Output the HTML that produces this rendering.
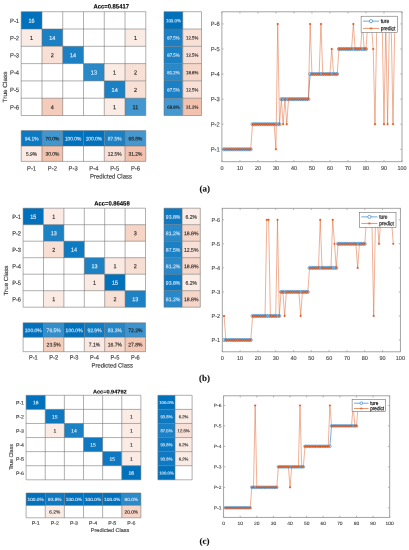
<!DOCTYPE html>
<html lang="en">
<head>
<meta charset="utf-8">
<title>Confusion matrices and prediction results</title>
<style>
html,body{margin:0;padding:0;background:#fff;}
body{width:409px;height:550px;overflow:hidden;font-family:"Liberation Sans",Arial,sans-serif;}
svg{display:block;}
</style>
</head>
<body>
<svg width="409" height="550" viewBox="0 0 409 550" font-family='"Liberation Sans", Arial, Helvetica, sans-serif' text-rendering="geometricPrecision">
<rect width="409" height="550" fill="#fff"/>
<rect x="21.2" y="11.7" width="124.6" height="103.8" fill="#fff"/>
<rect x="21.2" y="11.7" width="20.77" height="17.3" fill="#0072bd"/>
<rect x="21.2" y="29" width="20.77" height="17.3" fill="#faebe4"/>
<rect x="41.97" y="29" width="20.77" height="17.3" fill="#1b81c4"/>
<rect x="125.03" y="29" width="20.77" height="17.3" fill="#faebe4"/>
<rect x="41.97" y="46.3" width="20.77" height="17.3" fill="#f8e0d6"/>
<rect x="62.73" y="46.3" width="20.77" height="17.3" fill="#1b81c4"/>
<rect x="83.5" y="63.6" width="20.77" height="17.3" fill="#2988c8"/>
<rect x="104.27" y="63.6" width="20.77" height="17.3" fill="#faebe4"/>
<rect x="125.03" y="63.6" width="20.77" height="17.3" fill="#f8e0d6"/>
<rect x="104.27" y="80.9" width="20.77" height="17.3" fill="#1b81c4"/>
<rect x="125.03" y="80.9" width="20.77" height="17.3" fill="#f8e0d6"/>
<rect x="41.97" y="98.2" width="20.77" height="17.3" fill="#f4ccbb"/>
<rect x="104.27" y="98.2" width="20.77" height="17.3" fill="#faebe4"/>
<rect x="125.03" y="98.2" width="20.77" height="17.3" fill="#4497cf"/>
<path d="M21.2 11.7V115.5M41.97 11.7V115.5M62.73 11.7V115.5M83.5 11.7V115.5M104.27 11.7V115.5M125.03 11.7V115.5M145.8 11.7V115.5M21.2 11.7H145.8M21.2 29H145.8M21.2 46.3H145.8M21.2 63.6H145.8M21.2 80.9H145.8M21.2 98.2H145.8M21.2 115.5H145.8" stroke="#6e6e6e" stroke-width="0.55" fill="none"/>
<text font-size="5.5" text-anchor="middle" fill="#e6f0f9" stroke="#e6f0f9" stroke-width="0.12" transform="translate(31.58 22.71) rotate(0.03) scale(1 1.07)">16</text>
<text font-size="5.5" text-anchor="middle" fill="#222" stroke="#222" stroke-width="0.12" transform="translate(31.58 40.01) rotate(0.03) scale(1 1.07)">1</text>
<text font-size="5.5" text-anchor="middle" fill="#e6f0f9" stroke="#e6f0f9" stroke-width="0.12" transform="translate(52.35 40.01) rotate(0.03) scale(1 1.07)">14</text>
<text font-size="5.5" text-anchor="middle" fill="#222" stroke="#222" stroke-width="0.12" transform="translate(135.42 40.01) rotate(0.03) scale(1 1.07)">1</text>
<text font-size="5.5" text-anchor="middle" fill="#222" stroke="#222" stroke-width="0.12" transform="translate(52.35 57.31) rotate(0.03) scale(1 1.07)">2</text>
<text font-size="5.5" text-anchor="middle" fill="#e6f0f9" stroke="#e6f0f9" stroke-width="0.12" transform="translate(73.12 57.31) rotate(0.03) scale(1 1.07)">14</text>
<text font-size="5.5" text-anchor="middle" fill="#e6f0f9" stroke="#e6f0f9" stroke-width="0.12" transform="translate(93.88 74.61) rotate(0.03) scale(1 1.07)">13</text>
<text font-size="5.5" text-anchor="middle" fill="#222" stroke="#222" stroke-width="0.12" transform="translate(114.65 74.61) rotate(0.03) scale(1 1.07)">1</text>
<text font-size="5.5" text-anchor="middle" fill="#222" stroke="#222" stroke-width="0.12" transform="translate(135.42 74.61) rotate(0.03) scale(1 1.07)">2</text>
<text font-size="5.5" text-anchor="middle" fill="#e6f0f9" stroke="#e6f0f9" stroke-width="0.12" transform="translate(114.65 91.91) rotate(0.03) scale(1 1.07)">14</text>
<text font-size="5.5" text-anchor="middle" fill="#222" stroke="#222" stroke-width="0.12" transform="translate(135.42 91.91) rotate(0.03) scale(1 1.07)">2</text>
<text font-size="5.5" text-anchor="middle" fill="#222" stroke="#222" stroke-width="0.12" transform="translate(52.35 109.21) rotate(0.03) scale(1 1.07)">4</text>
<text font-size="5.5" text-anchor="middle" fill="#222" stroke="#222" stroke-width="0.12" transform="translate(114.65 109.21) rotate(0.03) scale(1 1.07)">1</text>
<text font-size="5.5" text-anchor="middle" fill="#1a1a1a" stroke="#1a1a1a" stroke-width="0.12" transform="translate(135.42 109.21) rotate(0.03) scale(1 1.07)">11</text>
<text font-size="5.8" text-anchor="end" fill="#3a3a3a" stroke="#3a3a3a" stroke-width="0.14" transform="translate(19.1 22.92) rotate(0.03) scale(1 1.07)">P-1</text>
<text font-size="5.8" text-anchor="end" fill="#3a3a3a" stroke="#3a3a3a" stroke-width="0.14" transform="translate(19.1 40.22) rotate(0.03) scale(1 1.07)">P-2</text>
<text font-size="5.8" text-anchor="end" fill="#3a3a3a" stroke="#3a3a3a" stroke-width="0.14" transform="translate(19.1 57.52) rotate(0.03) scale(1 1.07)">P-3</text>
<text font-size="5.8" text-anchor="end" fill="#3a3a3a" stroke="#3a3a3a" stroke-width="0.14" transform="translate(19.1 74.82) rotate(0.03) scale(1 1.07)">P-4</text>
<text font-size="5.8" text-anchor="end" fill="#3a3a3a" stroke="#3a3a3a" stroke-width="0.14" transform="translate(19.1 92.12) rotate(0.03) scale(1 1.07)">P-5</text>
<text font-size="5.8" text-anchor="end" fill="#3a3a3a" stroke="#3a3a3a" stroke-width="0.14" transform="translate(19.1 109.42) rotate(0.03) scale(1 1.07)">P-6</text>
<text font-size="5.9" text-anchor="middle" fill="#000" stroke="#000" stroke-width="0.1" font-weight="bold" transform="translate(111.2 8.4) rotate(0.03) scale(1 1.07)">Acc=0.85417</text>
<text font-size="6" text-anchor="middle" fill="#3a3a3a" stroke="#3a3a3a" stroke-width="0.14" transform="translate(6.9 87) rotate(-90) scale(1.07 1)">True Class</text>
<rect x="164" y="11.7" width="37.5" height="103.8" fill="#fff"/>
<rect x="164" y="11.7" width="18.75" height="17.3" fill="#0072bd"/>
<rect x="164" y="29" width="18.75" height="17.3" fill="#1b81c4"/>
<rect x="182.75" y="29" width="18.75" height="17.3" fill="#f8e0d6"/>
<rect x="164" y="46.3" width="18.75" height="17.3" fill="#1b81c4"/>
<rect x="182.75" y="46.3" width="18.75" height="17.3" fill="#f8e0d6"/>
<rect x="164" y="63.6" width="18.75" height="17.3" fill="#2988c8"/>
<rect x="182.75" y="63.6" width="18.75" height="17.3" fill="#f6d6c9"/>
<rect x="164" y="80.9" width="18.75" height="17.3" fill="#1b81c4"/>
<rect x="182.75" y="80.9" width="18.75" height="17.3" fill="#f8e0d6"/>
<rect x="164" y="98.2" width="18.75" height="17.3" fill="#4497cf"/>
<rect x="182.75" y="98.2" width="18.75" height="17.3" fill="#f2c2ae"/>
<path d="M164 11.7V115.5M182.75 11.7V115.5M201.5 11.7V115.5M164 11.7H201.5M164 29H201.5M164 46.3H201.5M164 63.6H201.5M164 80.9H201.5M164 98.2H201.5M164 115.5H201.5" stroke="#6e6e6e" stroke-width="0.55" fill="none"/>
<text font-size="4.35" text-anchor="middle" fill="#d4e5f5" stroke="#d4e5f5" stroke-width="0.12" transform="translate(173.38 22.27) rotate(0.03) scale(1 1.07)">100.0%</text>
<text font-size="4.35" text-anchor="middle" fill="#d4e5f5" stroke="#d4e5f5" stroke-width="0.12" transform="translate(173.38 39.57) rotate(0.03) scale(1 1.07)">87.5%</text>
<text font-size="4.35" text-anchor="middle" fill="#222" stroke="#222" stroke-width="0.12" transform="translate(192.12 39.57) rotate(0.03) scale(1 1.07)">12.5%</text>
<text font-size="4.35" text-anchor="middle" fill="#d4e5f5" stroke="#d4e5f5" stroke-width="0.12" transform="translate(173.38 56.87) rotate(0.03) scale(1 1.07)">87.5%</text>
<text font-size="4.35" text-anchor="middle" fill="#222" stroke="#222" stroke-width="0.12" transform="translate(192.12 56.87) rotate(0.03) scale(1 1.07)">12.5%</text>
<text font-size="4.35" text-anchor="middle" fill="#d4e5f5" stroke="#d4e5f5" stroke-width="0.12" transform="translate(173.38 74.17) rotate(0.03) scale(1 1.07)">81.2%</text>
<text font-size="4.35" text-anchor="middle" fill="#222" stroke="#222" stroke-width="0.12" transform="translate(192.12 74.17) rotate(0.03) scale(1 1.07)">18.8%</text>
<text font-size="4.35" text-anchor="middle" fill="#d4e5f5" stroke="#d4e5f5" stroke-width="0.12" transform="translate(173.38 91.47) rotate(0.03) scale(1 1.07)">87.5%</text>
<text font-size="4.35" text-anchor="middle" fill="#222" stroke="#222" stroke-width="0.12" transform="translate(192.12 91.47) rotate(0.03) scale(1 1.07)">12.5%</text>
<text font-size="4.35" text-anchor="middle" fill="#1a1a1a" stroke="#1a1a1a" stroke-width="0.12" transform="translate(173.38 108.77) rotate(0.03) scale(1 1.07)">68.8%</text>
<text font-size="4.35" text-anchor="middle" fill="#222" stroke="#222" stroke-width="0.12" transform="translate(192.12 108.77) rotate(0.03) scale(1 1.07)">31.2%</text>
<rect x="21.2" y="130.6" width="124.6" height="30.8" fill="#fff"/>
<rect x="21.2" y="130.6" width="20.77" height="15.4" fill="#0d79c0"/>
<rect x="21.2" y="146" width="20.77" height="15.4" fill="#fbebe4"/>
<rect x="41.97" y="130.6" width="20.77" height="15.4" fill="#4196ce"/>
<rect x="41.97" y="146" width="20.77" height="15.4" fill="#f2c4b0"/>
<rect x="62.73" y="130.6" width="20.77" height="15.4" fill="#0072bd"/>
<rect x="83.5" y="130.6" width="20.77" height="15.4" fill="#0072bd"/>
<rect x="104.27" y="130.6" width="20.77" height="15.4" fill="#1b81c4"/>
<rect x="104.27" y="146" width="20.77" height="15.4" fill="#f8e0d6"/>
<rect x="125.03" y="130.6" width="20.77" height="15.4" fill="#4497cf"/>
<rect x="125.03" y="146" width="20.77" height="15.4" fill="#f2c2ae"/>
<path d="M21.2 130.6V161.4M41.97 130.6V161.4M62.73 130.6V161.4M83.5 130.6V161.4M104.27 130.6V161.4M125.03 130.6V161.4M145.8 130.6V161.4M21.2 130.6H145.8M21.2 146H145.8M21.2 161.4H145.8" stroke="#6e6e6e" stroke-width="0.55" fill="none"/>
<text font-size="4.85" text-anchor="middle" fill="#d4e5f5" stroke="#d4e5f5" stroke-width="0.12" transform="translate(31.58 140.41) rotate(0.03) scale(1 1.07)">94.1%</text>
<text font-size="4.85" text-anchor="middle" fill="#222" stroke="#222" stroke-width="0.12" transform="translate(31.58 155.81) rotate(0.03) scale(1 1.07)">5.9%</text>
<text font-size="4.85" text-anchor="middle" fill="#1a1a1a" stroke="#1a1a1a" stroke-width="0.12" transform="translate(52.35 140.41) rotate(0.03) scale(1 1.07)">70.0%</text>
<text font-size="4.85" text-anchor="middle" fill="#222" stroke="#222" stroke-width="0.12" transform="translate(52.35 155.81) rotate(0.03) scale(1 1.07)">30.0%</text>
<text font-size="4.85" text-anchor="middle" fill="#d4e5f5" stroke="#d4e5f5" stroke-width="0.12" transform="translate(73.12 140.41) rotate(0.03) scale(1 1.07)">100.0%</text>
<text font-size="4.85" text-anchor="middle" fill="#d4e5f5" stroke="#d4e5f5" stroke-width="0.12" transform="translate(93.88 140.41) rotate(0.03) scale(1 1.07)">100.0%</text>
<text font-size="4.85" text-anchor="middle" fill="#d4e5f5" stroke="#d4e5f5" stroke-width="0.12" transform="translate(114.65 140.41) rotate(0.03) scale(1 1.07)">87.5%</text>
<text font-size="4.85" text-anchor="middle" fill="#222" stroke="#222" stroke-width="0.12" transform="translate(114.65 155.81) rotate(0.03) scale(1 1.07)">12.5%</text>
<text font-size="4.85" text-anchor="middle" fill="#1a1a1a" stroke="#1a1a1a" stroke-width="0.12" transform="translate(135.42 140.41) rotate(0.03) scale(1 1.07)">68.8%</text>
<text font-size="4.85" text-anchor="middle" fill="#222" stroke="#222" stroke-width="0.12" transform="translate(135.42 155.81) rotate(0.03) scale(1 1.07)">31.2%</text>
<text font-size="5.8" text-anchor="middle" fill="#3a3a3a" stroke="#3a3a3a" stroke-width="0.14" transform="translate(31.58 170.4) rotate(0.03) scale(1 1.07)">P-1</text>
<text font-size="5.8" text-anchor="middle" fill="#3a3a3a" stroke="#3a3a3a" stroke-width="0.14" transform="translate(52.35 170.4) rotate(0.03) scale(1 1.07)">P-2</text>
<text font-size="5.8" text-anchor="middle" fill="#3a3a3a" stroke="#3a3a3a" stroke-width="0.14" transform="translate(73.12 170.4) rotate(0.03) scale(1 1.07)">P-3</text>
<text font-size="5.8" text-anchor="middle" fill="#3a3a3a" stroke="#3a3a3a" stroke-width="0.14" transform="translate(93.88 170.4) rotate(0.03) scale(1 1.07)">P-4</text>
<text font-size="5.8" text-anchor="middle" fill="#3a3a3a" stroke="#3a3a3a" stroke-width="0.14" transform="translate(114.65 170.4) rotate(0.03) scale(1 1.07)">P-5</text>
<text font-size="5.8" text-anchor="middle" fill="#3a3a3a" stroke="#3a3a3a" stroke-width="0.14" transform="translate(135.42 170.4) rotate(0.03) scale(1 1.07)">P-6</text>
<text font-size="6" text-anchor="middle" fill="#3a3a3a" stroke="#3a3a3a" stroke-width="0.14" transform="translate(111 178.5) rotate(0.03) scale(1 1.07)">Predicted Class</text>
<rect x="221.9" y="11.8" width="180.1" height="149.9" fill="#fff"/>
<path d="M221.9 161.7v-1.6M221.9 11.8v1.6M239.91 161.7v-1.6M239.91 11.8v1.6M257.92 161.7v-1.6M257.92 11.8v1.6M275.93 161.7v-1.6M275.93 11.8v1.6M293.94 161.7v-1.6M293.94 11.8v1.6M311.95 161.7v-1.6M311.95 11.8v1.6M329.96 161.7v-1.6M329.96 11.8v1.6M347.97 161.7v-1.6M347.97 11.8v1.6M365.98 161.7v-1.6M365.98 11.8v1.6M383.99 161.7v-1.6M383.99 11.8v1.6M402 161.7v-1.6M402 11.8v1.6M221.9 149.3h1.6M402 149.3h-1.6M221.9 124.22h1.6M402 124.22h-1.6M221.9 99.14h1.6M402 99.14h-1.6M221.9 74.06h1.6M402 74.06h-1.6M221.9 48.98h1.6M402 48.98h-1.6M221.9 23.9h1.6M402 23.9h-1.6" stroke="#7d7d7d" stroke-width="0.6" fill="none"/>
<path d="M274.13 124.22L275.93 124.22M275.93 124.22L277.73 124.22M277.73 124.22L279.53 124.22M281.33 99.14L283.13 99.14M283.13 99.14L284.94 99.14M284.94 99.14L286.74 99.14M286.74 99.14L288.54 99.14M308.35 99.14L310.15 74.06M310.15 74.06L311.95 74.06M319.15 74.06L320.95 74.06M320.95 74.06L322.76 74.06M329.96 74.06L331.76 74.06M331.76 74.06L333.56 74.06M351.57 48.98L353.37 48.98M353.37 48.98L355.17 48.98M360.58 48.98L362.38 48.98M362.38 48.98L364.18 48.98M371.38 23.9L373.18 23.9M373.18 23.9L374.99 23.9M374.99 23.9L376.79 23.9M382.19 23.9L383.99 23.9M383.99 23.9L385.79 23.9M385.79 23.9L387.59 23.9M387.59 23.9L389.39 23.9M391.19 23.9L393 23.9M393 23.9L394.8 23.9" fill="none" stroke="#3d8fcd" stroke-width="0.7"/>
<g fill="none" stroke="#3a8dd0" stroke-width="0.62"><circle cx="223.7" cy="149.3" r="1.6"/><circle cx="225.5" cy="149.3" r="1.6"/><circle cx="227.3" cy="149.3" r="1.6"/><circle cx="229.1" cy="149.3" r="1.6"/><circle cx="230.91" cy="149.3" r="1.6"/><circle cx="232.71" cy="149.3" r="1.6"/><circle cx="234.51" cy="149.3" r="1.6"/><circle cx="236.31" cy="149.3" r="1.6"/><circle cx="238.11" cy="149.3" r="1.6"/><circle cx="239.91" cy="149.3" r="1.6"/><circle cx="241.71" cy="149.3" r="1.6"/><circle cx="243.51" cy="149.3" r="1.6"/><circle cx="245.31" cy="149.3" r="1.6"/><circle cx="247.11" cy="149.3" r="1.6"/><circle cx="248.92" cy="149.3" r="1.6"/><circle cx="250.72" cy="149.3" r="1.6"/><circle cx="252.52" cy="124.22" r="1.6"/><circle cx="254.32" cy="124.22" r="1.6"/><circle cx="256.12" cy="124.22" r="1.6"/><circle cx="257.92" cy="124.22" r="1.6"/><circle cx="259.72" cy="124.22" r="1.6"/><circle cx="261.52" cy="124.22" r="1.6"/><circle cx="263.32" cy="124.22" r="1.6"/><circle cx="265.12" cy="124.22" r="1.6"/><circle cx="266.93" cy="124.22" r="1.6"/><circle cx="268.73" cy="124.22" r="1.6"/><circle cx="270.53" cy="124.22" r="1.6"/><circle cx="272.33" cy="124.22" r="1.6"/><circle cx="274.13" cy="124.22" r="1.6"/><circle cx="275.93" cy="124.22" r="1.6"/><circle cx="277.73" cy="124.22" r="1.6"/><circle cx="279.53" cy="124.22" r="1.6"/><circle cx="281.33" cy="99.14" r="1.6"/><circle cx="283.13" cy="99.14" r="1.6"/><circle cx="284.94" cy="99.14" r="1.6"/><circle cx="286.74" cy="99.14" r="1.6"/><circle cx="288.54" cy="99.14" r="1.6"/><circle cx="290.34" cy="99.14" r="1.6"/><circle cx="292.14" cy="99.14" r="1.6"/><circle cx="293.94" cy="99.14" r="1.6"/><circle cx="295.74" cy="99.14" r="1.6"/><circle cx="297.54" cy="99.14" r="1.6"/><circle cx="299.34" cy="99.14" r="1.6"/><circle cx="301.14" cy="99.14" r="1.6"/><circle cx="302.94" cy="99.14" r="1.6"/><circle cx="304.75" cy="99.14" r="1.6"/><circle cx="306.55" cy="99.14" r="1.6"/><circle cx="308.35" cy="99.14" r="1.6"/><circle cx="310.15" cy="74.06" r="1.6"/><circle cx="311.95" cy="74.06" r="1.6"/><circle cx="313.75" cy="74.06" r="1.6"/><circle cx="315.55" cy="74.06" r="1.6"/><circle cx="317.35" cy="74.06" r="1.6"/><circle cx="319.15" cy="74.06" r="1.6"/><circle cx="320.95" cy="74.06" r="1.6"/><circle cx="322.76" cy="74.06" r="1.6"/><circle cx="324.56" cy="74.06" r="1.6"/><circle cx="326.36" cy="74.06" r="1.6"/><circle cx="328.16" cy="74.06" r="1.6"/><circle cx="329.96" cy="74.06" r="1.6"/><circle cx="331.76" cy="74.06" r="1.6"/><circle cx="333.56" cy="74.06" r="1.6"/><circle cx="335.36" cy="74.06" r="1.6"/><circle cx="337.16" cy="74.06" r="1.6"/><circle cx="338.97" cy="48.98" r="1.6"/><circle cx="340.77" cy="48.98" r="1.6"/><circle cx="342.57" cy="48.98" r="1.6"/><circle cx="344.37" cy="48.98" r="1.6"/><circle cx="346.17" cy="48.98" r="1.6"/><circle cx="347.97" cy="48.98" r="1.6"/><circle cx="349.77" cy="48.98" r="1.6"/><circle cx="351.57" cy="48.98" r="1.6"/><circle cx="353.37" cy="48.98" r="1.6"/><circle cx="355.17" cy="48.98" r="1.6"/><circle cx="356.98" cy="48.98" r="1.6"/><circle cx="358.78" cy="48.98" r="1.6"/><circle cx="360.58" cy="48.98" r="1.6"/><circle cx="362.38" cy="48.98" r="1.6"/><circle cx="364.18" cy="48.98" r="1.6"/><circle cx="365.98" cy="48.98" r="1.6"/><circle cx="367.78" cy="23.9" r="1.6"/><circle cx="369.58" cy="23.9" r="1.6"/><circle cx="371.38" cy="23.9" r="1.6"/><circle cx="373.18" cy="23.9" r="1.6"/><circle cx="374.99" cy="23.9" r="1.6"/><circle cx="376.79" cy="23.9" r="1.6"/><circle cx="378.59" cy="23.9" r="1.6"/><circle cx="380.39" cy="23.9" r="1.6"/><circle cx="382.19" cy="23.9" r="1.6"/><circle cx="383.99" cy="23.9" r="1.6"/><circle cx="385.79" cy="23.9" r="1.6"/><circle cx="387.59" cy="23.9" r="1.6"/><circle cx="389.39" cy="23.9" r="1.6"/><circle cx="391.19" cy="23.9" r="1.6"/><circle cx="393" cy="23.9" r="1.6"/><circle cx="394.8" cy="23.9" r="1.6"/></g>
<polyline points="223.7,149.3 225.5,149.3 227.3,149.3 229.1,149.3 230.91,149.3 232.71,149.3 234.51,149.3 236.31,149.3 238.11,149.3 239.91,149.3 241.71,149.3 243.51,149.3 245.31,149.3 247.11,149.3 248.92,149.3 250.72,149.3 252.52,124.22 254.32,124.22 256.12,124.22 257.92,124.22 259.72,124.22 261.52,124.22 263.32,124.22 265.12,124.22 266.93,124.22 268.73,124.22 270.53,124.22 272.33,124.22 274.13,124.22 275.93,149.3 277.73,23.9 279.53,124.22 281.33,99.14 283.13,124.22 284.94,99.14 286.74,124.22 288.54,99.14 290.34,99.14 292.14,99.14 293.94,99.14 295.74,99.14 297.54,99.14 299.34,99.14 301.14,99.14 302.94,99.14 304.75,99.14 306.55,99.14 308.35,99.14 310.15,23.9 311.95,74.06 313.75,74.06 315.55,74.06 317.35,74.06 319.15,74.06 320.95,23.9 322.76,74.06 324.56,74.06 326.36,74.06 328.16,74.06 329.96,74.06 331.76,48.98 333.56,74.06 335.36,74.06 337.16,74.06 338.97,48.98 340.77,48.98 342.57,48.98 344.37,48.98 346.17,48.98 347.97,48.98 349.77,48.98 351.57,48.98 353.37,23.9 355.17,48.98 356.98,48.98 358.78,48.98 360.58,48.98 362.38,23.9 364.18,48.98 365.98,48.98 367.78,23.9 369.58,23.9 371.38,23.9 373.18,48.98 374.99,124.22 376.79,23.9 378.59,23.9 380.39,23.9 382.19,23.9 383.99,124.22 385.79,23.9 387.59,124.22 389.39,23.9 391.19,23.9 393,124.22 394.8,23.9" fill="none" stroke="#e0632c" stroke-width="0.5" stroke-linejoin="round"/>
<path d="M222.4 149.3h2.6M223.7 148v2.6M222.78 148.38l1.84 1.84M222.78 150.22l1.84 -1.84M224.2 149.3h2.6M225.5 148v2.6M224.58 148.38l1.84 1.84M224.58 150.22l1.84 -1.84M226 149.3h2.6M227.3 148v2.6M226.38 148.38l1.84 1.84M226.38 150.22l1.84 -1.84M227.8 149.3h2.6M229.1 148v2.6M228.18 148.38l1.84 1.84M228.18 150.22l1.84 -1.84M229.6 149.3h2.6M230.91 148v2.6M229.99 148.38l1.84 1.84M229.99 150.22l1.84 -1.84M231.41 149.3h2.6M232.71 148v2.6M231.79 148.38l1.84 1.84M231.79 150.22l1.84 -1.84M233.21 149.3h2.6M234.51 148v2.6M233.59 148.38l1.84 1.84M233.59 150.22l1.84 -1.84M235.01 149.3h2.6M236.31 148v2.6M235.39 148.38l1.84 1.84M235.39 150.22l1.84 -1.84M236.81 149.3h2.6M238.11 148v2.6M237.19 148.38l1.84 1.84M237.19 150.22l1.84 -1.84M238.61 149.3h2.6M239.91 148v2.6M238.99 148.38l1.84 1.84M238.99 150.22l1.84 -1.84M240.41 149.3h2.6M241.71 148v2.6M240.79 148.38l1.84 1.84M240.79 150.22l1.84 -1.84M242.21 149.3h2.6M243.51 148v2.6M242.59 148.38l1.84 1.84M242.59 150.22l1.84 -1.84M244.01 149.3h2.6M245.31 148v2.6M244.39 148.38l1.84 1.84M244.39 150.22l1.84 -1.84M245.81 149.3h2.6M247.11 148v2.6M246.19 148.38l1.84 1.84M246.19 150.22l1.84 -1.84M247.62 149.3h2.6M248.92 148v2.6M248 148.38l1.84 1.84M248 150.22l1.84 -1.84M249.42 149.3h2.6M250.72 148v2.6M249.8 148.38l1.84 1.84M249.8 150.22l1.84 -1.84M251.22 124.22h2.6M252.52 122.92v2.6M251.6 123.3l1.84 1.84M251.6 125.14l1.84 -1.84M253.02 124.22h2.6M254.32 122.92v2.6M253.4 123.3l1.84 1.84M253.4 125.14l1.84 -1.84M254.82 124.22h2.6M256.12 122.92v2.6M255.2 123.3l1.84 1.84M255.2 125.14l1.84 -1.84M256.62 124.22h2.6M257.92 122.92v2.6M257 123.3l1.84 1.84M257 125.14l1.84 -1.84M258.42 124.22h2.6M259.72 122.92v2.6M258.8 123.3l1.84 1.84M258.8 125.14l1.84 -1.84M260.22 124.22h2.6M261.52 122.92v2.6M260.6 123.3l1.84 1.84M260.6 125.14l1.84 -1.84M262.02 124.22h2.6M263.32 122.92v2.6M262.4 123.3l1.84 1.84M262.4 125.14l1.84 -1.84M263.82 124.22h2.6M265.12 122.92v2.6M264.2 123.3l1.84 1.84M264.2 125.14l1.84 -1.84M265.62 124.22h2.6M266.93 122.92v2.6M266.01 123.3l1.84 1.84M266.01 125.14l1.84 -1.84M267.43 124.22h2.6M268.73 122.92v2.6M267.81 123.3l1.84 1.84M267.81 125.14l1.84 -1.84M269.23 124.22h2.6M270.53 122.92v2.6M269.61 123.3l1.84 1.84M269.61 125.14l1.84 -1.84M271.03 124.22h2.6M272.33 122.92v2.6M271.41 123.3l1.84 1.84M271.41 125.14l1.84 -1.84M272.83 124.22h2.6M274.13 122.92v2.6M273.21 123.3l1.84 1.84M273.21 125.14l1.84 -1.84M274.63 149.3h2.6M275.93 148v2.6M275.01 148.38l1.84 1.84M275.01 150.22l1.84 -1.84M276.43 23.9h2.6M277.73 22.6v2.6M276.81 22.98l1.84 1.84M276.81 24.82l1.84 -1.84M278.23 124.22h2.6M279.53 122.92v2.6M278.61 123.3l1.84 1.84M278.61 125.14l1.84 -1.84M280.03 99.14h2.6M281.33 97.84v2.6M280.41 98.22l1.84 1.84M280.41 100.06l1.84 -1.84M281.83 124.22h2.6M283.13 122.92v2.6M282.21 123.3l1.84 1.84M282.21 125.14l1.84 -1.84M283.63 99.14h2.6M284.94 97.84v2.6M284.02 98.22l1.84 1.84M284.02 100.06l1.84 -1.84M285.44 124.22h2.6M286.74 122.92v2.6M285.82 123.3l1.84 1.84M285.82 125.14l1.84 -1.84M287.24 99.14h2.6M288.54 97.84v2.6M287.62 98.22l1.84 1.84M287.62 100.06l1.84 -1.84M289.04 99.14h2.6M290.34 97.84v2.6M289.42 98.22l1.84 1.84M289.42 100.06l1.84 -1.84M290.84 99.14h2.6M292.14 97.84v2.6M291.22 98.22l1.84 1.84M291.22 100.06l1.84 -1.84M292.64 99.14h2.6M293.94 97.84v2.6M293.02 98.22l1.84 1.84M293.02 100.06l1.84 -1.84M294.44 99.14h2.6M295.74 97.84v2.6M294.82 98.22l1.84 1.84M294.82 100.06l1.84 -1.84M296.24 99.14h2.6M297.54 97.84v2.6M296.62 98.22l1.84 1.84M296.62 100.06l1.84 -1.84M298.04 99.14h2.6M299.34 97.84v2.6M298.42 98.22l1.84 1.84M298.42 100.06l1.84 -1.84M299.84 99.14h2.6M301.14 97.84v2.6M300.22 98.22l1.84 1.84M300.22 100.06l1.84 -1.84M301.64 99.14h2.6M302.94 97.84v2.6M302.03 98.22l1.84 1.84M302.03 100.06l1.84 -1.84M303.45 99.14h2.6M304.75 97.84v2.6M303.83 98.22l1.84 1.84M303.83 100.06l1.84 -1.84M305.25 99.14h2.6M306.55 97.84v2.6M305.63 98.22l1.84 1.84M305.63 100.06l1.84 -1.84M307.05 99.14h2.6M308.35 97.84v2.6M307.43 98.22l1.84 1.84M307.43 100.06l1.84 -1.84M308.85 23.9h2.6M310.15 22.6v2.6M309.23 22.98l1.84 1.84M309.23 24.82l1.84 -1.84M310.65 74.06h2.6M311.95 72.76v2.6M311.03 73.14l1.84 1.84M311.03 74.98l1.84 -1.84M312.45 74.06h2.6M313.75 72.76v2.6M312.83 73.14l1.84 1.84M312.83 74.98l1.84 -1.84M314.25 74.06h2.6M315.55 72.76v2.6M314.63 73.14l1.84 1.84M314.63 74.98l1.84 -1.84M316.05 74.06h2.6M317.35 72.76v2.6M316.43 73.14l1.84 1.84M316.43 74.98l1.84 -1.84M317.85 74.06h2.6M319.15 72.76v2.6M318.23 73.14l1.84 1.84M318.23 74.98l1.84 -1.84M319.65 23.9h2.6M320.95 22.6v2.6M320.04 22.98l1.84 1.84M320.04 24.82l1.84 -1.84M321.46 74.06h2.6M322.76 72.76v2.6M321.84 73.14l1.84 1.84M321.84 74.98l1.84 -1.84M323.26 74.06h2.6M324.56 72.76v2.6M323.64 73.14l1.84 1.84M323.64 74.98l1.84 -1.84M325.06 74.06h2.6M326.36 72.76v2.6M325.44 73.14l1.84 1.84M325.44 74.98l1.84 -1.84M326.86 74.06h2.6M328.16 72.76v2.6M327.24 73.14l1.84 1.84M327.24 74.98l1.84 -1.84M328.66 74.06h2.6M329.96 72.76v2.6M329.04 73.14l1.84 1.84M329.04 74.98l1.84 -1.84M330.46 48.98h2.6M331.76 47.68v2.6M330.84 48.06l1.84 1.84M330.84 49.9l1.84 -1.84M332.26 74.06h2.6M333.56 72.76v2.6M332.64 73.14l1.84 1.84M332.64 74.98l1.84 -1.84M334.06 74.06h2.6M335.36 72.76v2.6M334.44 73.14l1.84 1.84M334.44 74.98l1.84 -1.84M335.86 74.06h2.6M337.16 72.76v2.6M336.24 73.14l1.84 1.84M336.24 74.98l1.84 -1.84M337.67 48.98h2.6M338.97 47.68v2.6M338.05 48.06l1.84 1.84M338.05 49.9l1.84 -1.84M339.47 48.98h2.6M340.77 47.68v2.6M339.85 48.06l1.84 1.84M339.85 49.9l1.84 -1.84M341.27 48.98h2.6M342.57 47.68v2.6M341.65 48.06l1.84 1.84M341.65 49.9l1.84 -1.84M343.07 48.98h2.6M344.37 47.68v2.6M343.45 48.06l1.84 1.84M343.45 49.9l1.84 -1.84M344.87 48.98h2.6M346.17 47.68v2.6M345.25 48.06l1.84 1.84M345.25 49.9l1.84 -1.84M346.67 48.98h2.6M347.97 47.68v2.6M347.05 48.06l1.84 1.84M347.05 49.9l1.84 -1.84M348.47 48.98h2.6M349.77 47.68v2.6M348.85 48.06l1.84 1.84M348.85 49.9l1.84 -1.84M350.27 48.98h2.6M351.57 47.68v2.6M350.65 48.06l1.84 1.84M350.65 49.9l1.84 -1.84M352.07 23.9h2.6M353.37 22.6v2.6M352.45 22.98l1.84 1.84M352.45 24.82l1.84 -1.84M353.87 48.98h2.6M355.17 47.68v2.6M354.25 48.06l1.84 1.84M354.25 49.9l1.84 -1.84M355.68 48.98h2.6M356.98 47.68v2.6M356.06 48.06l1.84 1.84M356.06 49.9l1.84 -1.84M357.48 48.98h2.6M358.78 47.68v2.6M357.86 48.06l1.84 1.84M357.86 49.9l1.84 -1.84M359.28 48.98h2.6M360.58 47.68v2.6M359.66 48.06l1.84 1.84M359.66 49.9l1.84 -1.84M361.08 23.9h2.6M362.38 22.6v2.6M361.46 22.98l1.84 1.84M361.46 24.82l1.84 -1.84M362.88 48.98h2.6M364.18 47.68v2.6M363.26 48.06l1.84 1.84M363.26 49.9l1.84 -1.84M364.68 48.98h2.6M365.98 47.68v2.6M365.06 48.06l1.84 1.84M365.06 49.9l1.84 -1.84M366.48 23.9h2.6M367.78 22.6v2.6M366.86 22.98l1.84 1.84M366.86 24.82l1.84 -1.84M368.28 23.9h2.6M369.58 22.6v2.6M368.66 22.98l1.84 1.84M368.66 24.82l1.84 -1.84M370.08 23.9h2.6M371.38 22.6v2.6M370.46 22.98l1.84 1.84M370.46 24.82l1.84 -1.84M371.88 48.98h2.6M373.18 47.68v2.6M372.26 48.06l1.84 1.84M372.26 49.9l1.84 -1.84M373.69 124.22h2.6M374.99 122.92v2.6M374.07 123.3l1.84 1.84M374.07 125.14l1.84 -1.84M375.49 23.9h2.6M376.79 22.6v2.6M375.87 22.98l1.84 1.84M375.87 24.82l1.84 -1.84M377.29 23.9h2.6M378.59 22.6v2.6M377.67 22.98l1.84 1.84M377.67 24.82l1.84 -1.84M379.09 23.9h2.6M380.39 22.6v2.6M379.47 22.98l1.84 1.84M379.47 24.82l1.84 -1.84M380.89 23.9h2.6M382.19 22.6v2.6M381.27 22.98l1.84 1.84M381.27 24.82l1.84 -1.84M382.69 124.22h2.6M383.99 122.92v2.6M383.07 123.3l1.84 1.84M383.07 125.14l1.84 -1.84M384.49 23.9h2.6M385.79 22.6v2.6M384.87 22.98l1.84 1.84M384.87 24.82l1.84 -1.84M386.29 124.22h2.6M387.59 122.92v2.6M386.67 123.3l1.84 1.84M386.67 125.14l1.84 -1.84M388.09 23.9h2.6M389.39 22.6v2.6M388.47 22.98l1.84 1.84M388.47 24.82l1.84 -1.84M389.89 23.9h2.6M391.19 22.6v2.6M390.27 22.98l1.84 1.84M390.27 24.82l1.84 -1.84M391.69 124.22h2.6M393 122.92v2.6M392.08 123.3l1.84 1.84M392.08 125.14l1.84 -1.84M393.5 23.9h2.6M394.8 22.6v2.6M393.88 22.98l1.84 1.84M393.88 24.82l1.84 -1.84" stroke="#dc5a20" stroke-width="0.36" fill="none"/>
<g fill="#d9531a"><circle cx="223.7" cy="149.3" r="0.7"/><circle cx="225.5" cy="149.3" r="0.7"/><circle cx="227.3" cy="149.3" r="0.7"/><circle cx="229.1" cy="149.3" r="0.7"/><circle cx="230.91" cy="149.3" r="0.7"/><circle cx="232.71" cy="149.3" r="0.7"/><circle cx="234.51" cy="149.3" r="0.7"/><circle cx="236.31" cy="149.3" r="0.7"/><circle cx="238.11" cy="149.3" r="0.7"/><circle cx="239.91" cy="149.3" r="0.7"/><circle cx="241.71" cy="149.3" r="0.7"/><circle cx="243.51" cy="149.3" r="0.7"/><circle cx="245.31" cy="149.3" r="0.7"/><circle cx="247.11" cy="149.3" r="0.7"/><circle cx="248.92" cy="149.3" r="0.7"/><circle cx="250.72" cy="149.3" r="0.7"/><circle cx="252.52" cy="124.22" r="0.7"/><circle cx="254.32" cy="124.22" r="0.7"/><circle cx="256.12" cy="124.22" r="0.7"/><circle cx="257.92" cy="124.22" r="0.7"/><circle cx="259.72" cy="124.22" r="0.7"/><circle cx="261.52" cy="124.22" r="0.7"/><circle cx="263.32" cy="124.22" r="0.7"/><circle cx="265.12" cy="124.22" r="0.7"/><circle cx="266.93" cy="124.22" r="0.7"/><circle cx="268.73" cy="124.22" r="0.7"/><circle cx="270.53" cy="124.22" r="0.7"/><circle cx="272.33" cy="124.22" r="0.7"/><circle cx="274.13" cy="124.22" r="0.7"/><circle cx="275.93" cy="149.3" r="0.7"/><circle cx="277.73" cy="23.9" r="0.7"/><circle cx="279.53" cy="124.22" r="0.7"/><circle cx="281.33" cy="99.14" r="0.7"/><circle cx="283.13" cy="124.22" r="0.7"/><circle cx="284.94" cy="99.14" r="0.7"/><circle cx="286.74" cy="124.22" r="0.7"/><circle cx="288.54" cy="99.14" r="0.7"/><circle cx="290.34" cy="99.14" r="0.7"/><circle cx="292.14" cy="99.14" r="0.7"/><circle cx="293.94" cy="99.14" r="0.7"/><circle cx="295.74" cy="99.14" r="0.7"/><circle cx="297.54" cy="99.14" r="0.7"/><circle cx="299.34" cy="99.14" r="0.7"/><circle cx="301.14" cy="99.14" r="0.7"/><circle cx="302.94" cy="99.14" r="0.7"/><circle cx="304.75" cy="99.14" r="0.7"/><circle cx="306.55" cy="99.14" r="0.7"/><circle cx="308.35" cy="99.14" r="0.7"/><circle cx="310.15" cy="23.9" r="0.7"/><circle cx="311.95" cy="74.06" r="0.7"/><circle cx="313.75" cy="74.06" r="0.7"/><circle cx="315.55" cy="74.06" r="0.7"/><circle cx="317.35" cy="74.06" r="0.7"/><circle cx="319.15" cy="74.06" r="0.7"/><circle cx="320.95" cy="23.9" r="0.7"/><circle cx="322.76" cy="74.06" r="0.7"/><circle cx="324.56" cy="74.06" r="0.7"/><circle cx="326.36" cy="74.06" r="0.7"/><circle cx="328.16" cy="74.06" r="0.7"/><circle cx="329.96" cy="74.06" r="0.7"/><circle cx="331.76" cy="48.98" r="0.7"/><circle cx="333.56" cy="74.06" r="0.7"/><circle cx="335.36" cy="74.06" r="0.7"/><circle cx="337.16" cy="74.06" r="0.7"/><circle cx="338.97" cy="48.98" r="0.7"/><circle cx="340.77" cy="48.98" r="0.7"/><circle cx="342.57" cy="48.98" r="0.7"/><circle cx="344.37" cy="48.98" r="0.7"/><circle cx="346.17" cy="48.98" r="0.7"/><circle cx="347.97" cy="48.98" r="0.7"/><circle cx="349.77" cy="48.98" r="0.7"/><circle cx="351.57" cy="48.98" r="0.7"/><circle cx="353.37" cy="23.9" r="0.7"/><circle cx="355.17" cy="48.98" r="0.7"/><circle cx="356.98" cy="48.98" r="0.7"/><circle cx="358.78" cy="48.98" r="0.7"/><circle cx="360.58" cy="48.98" r="0.7"/><circle cx="362.38" cy="23.9" r="0.7"/><circle cx="364.18" cy="48.98" r="0.7"/><circle cx="365.98" cy="48.98" r="0.7"/><circle cx="367.78" cy="23.9" r="0.7"/><circle cx="369.58" cy="23.9" r="0.7"/><circle cx="371.38" cy="23.9" r="0.7"/><circle cx="373.18" cy="48.98" r="0.7"/><circle cx="374.99" cy="124.22" r="0.7"/><circle cx="376.79" cy="23.9" r="0.7"/><circle cx="378.59" cy="23.9" r="0.7"/><circle cx="380.39" cy="23.9" r="0.7"/><circle cx="382.19" cy="23.9" r="0.7"/><circle cx="383.99" cy="124.22" r="0.7"/><circle cx="385.79" cy="23.9" r="0.7"/><circle cx="387.59" cy="124.22" r="0.7"/><circle cx="389.39" cy="23.9" r="0.7"/><circle cx="391.19" cy="23.9" r="0.7"/><circle cx="393" cy="124.22" r="0.7"/><circle cx="394.8" cy="23.9" r="0.7"/></g>
<rect x="221.9" y="11.8" width="180.1" height="149.9" fill="none" stroke="#9a9a9a" stroke-width="0.9"/>
<text font-size="5.45" text-anchor="middle" fill="#404040" stroke="#404040" stroke-width="0.1" transform="translate(221.9 169.9) rotate(0.03) scale(1 1.07)">0</text>
<text font-size="5.45" text-anchor="middle" fill="#404040" stroke="#404040" stroke-width="0.1" transform="translate(239.91 169.9) rotate(0.03) scale(1 1.07)">10</text>
<text font-size="5.45" text-anchor="middle" fill="#404040" stroke="#404040" stroke-width="0.1" transform="translate(257.92 169.9) rotate(0.03) scale(1 1.07)">20</text>
<text font-size="5.45" text-anchor="middle" fill="#404040" stroke="#404040" stroke-width="0.1" transform="translate(275.93 169.9) rotate(0.03) scale(1 1.07)">30</text>
<text font-size="5.45" text-anchor="middle" fill="#404040" stroke="#404040" stroke-width="0.1" transform="translate(293.94 169.9) rotate(0.03) scale(1 1.07)">40</text>
<text font-size="5.45" text-anchor="middle" fill="#404040" stroke="#404040" stroke-width="0.1" transform="translate(311.95 169.9) rotate(0.03) scale(1 1.07)">50</text>
<text font-size="5.45" text-anchor="middle" fill="#404040" stroke="#404040" stroke-width="0.1" transform="translate(329.96 169.9) rotate(0.03) scale(1 1.07)">60</text>
<text font-size="5.45" text-anchor="middle" fill="#404040" stroke="#404040" stroke-width="0.1" transform="translate(347.97 169.9) rotate(0.03) scale(1 1.07)">70</text>
<text font-size="5.45" text-anchor="middle" fill="#404040" stroke="#404040" stroke-width="0.1" transform="translate(365.98 169.9) rotate(0.03) scale(1 1.07)">80</text>
<text font-size="5.45" text-anchor="middle" fill="#404040" stroke="#404040" stroke-width="0.1" transform="translate(383.99 169.9) rotate(0.03) scale(1 1.07)">90</text>
<text font-size="5.45" text-anchor="middle" fill="#404040" stroke="#404040" stroke-width="0.1" transform="translate(402 169.9) rotate(0.03) scale(1 1.07)">100</text>
<text font-size="5.8" text-anchor="end" fill="#404040" stroke="#404040" stroke-width="0.1" transform="translate(219.7 151.52) rotate(0.03) scale(1 1.07)">P-1</text>
<text font-size="5.8" text-anchor="end" fill="#404040" stroke="#404040" stroke-width="0.1" transform="translate(219.7 126.44) rotate(0.03) scale(1 1.07)">P-2</text>
<text font-size="5.8" text-anchor="end" fill="#404040" stroke="#404040" stroke-width="0.1" transform="translate(219.7 101.36) rotate(0.03) scale(1 1.07)">P-3</text>
<text font-size="5.8" text-anchor="end" fill="#404040" stroke="#404040" stroke-width="0.1" transform="translate(219.7 76.28) rotate(0.03) scale(1 1.07)">P-4</text>
<text font-size="5.8" text-anchor="end" fill="#404040" stroke="#404040" stroke-width="0.1" transform="translate(219.7 51.2) rotate(0.03) scale(1 1.07)">P-5</text>
<text font-size="5.8" text-anchor="end" fill="#404040" stroke="#404040" stroke-width="0.1" transform="translate(219.7 26.12) rotate(0.03) scale(1 1.07)">P-6</text>
<rect x="361.1" y="16.2" width="36.2" height="16.5" fill="#fff" stroke="#555" stroke-width="0.5"/>
<path d="M363 21.15H379.02" stroke="#3d8fcd" stroke-width="0.75"/>
<circle cx="371.01" cy="21.15" r="1.6" fill="#fff" stroke="#3388cc" stroke-width="0.7"/>
<path d="M363 28.41H379.02" stroke="#e2703c" stroke-width="0.75"/>
<path d="M369.71 28.41h2.6M371.01 27.11v2.6M370.09 27.49l1.84 1.84M370.09 29.33l1.84 -1.84" stroke="#dc5a20" stroke-width="0.45" fill="none"/>
<text font-size="4.9" text-anchor="start" fill="#222" stroke="#222" stroke-width="0.2" transform="translate(380.72 23.11) rotate(0.03) scale(1 1.2)">ture</text>
<text font-size="4.9" text-anchor="start" fill="#222" stroke="#222" stroke-width="0.2" transform="translate(380.72 30.37) rotate(0.03) scale(1 1.2)">predict</text>
<text font-size="9" text-anchor="middle" fill="#111" stroke="#111" stroke-width="0.1" font-weight="bold" font-family='"Liberation Serif", "Times New Roman", serif' transform="translate(204.7 191.6) rotate(0.03) scale(1 1)">(a)</text>
<rect x="23.1" y="208.2" width="122.4" height="99" fill="#fff"/>
<rect x="23.1" y="208.2" width="20.4" height="16.5" fill="#0072bd"/>
<rect x="43.5" y="208.2" width="20.4" height="16.5" fill="#faeae3"/>
<rect x="43.5" y="224.7" width="20.4" height="16.5" fill="#1d82c4"/>
<rect x="125.1" y="224.7" width="20.4" height="16.5" fill="#f6d4c6"/>
<rect x="43.5" y="241.2" width="20.4" height="16.5" fill="#f8dfd4"/>
<rect x="63.9" y="241.2" width="20.4" height="16.5" fill="#0e7ac1"/>
<rect x="84.3" y="257.7" width="20.4" height="16.5" fill="#1d82c4"/>
<rect x="104.7" y="257.7" width="20.4" height="16.5" fill="#faeae3"/>
<rect x="125.1" y="257.7" width="20.4" height="16.5" fill="#f8dfd4"/>
<rect x="84.3" y="274.2" width="20.4" height="16.5" fill="#faeae3"/>
<rect x="104.7" y="274.2" width="20.4" height="16.5" fill="#0072bd"/>
<rect x="43.5" y="290.7" width="20.4" height="16.5" fill="#faeae3"/>
<rect x="104.7" y="290.7" width="20.4" height="16.5" fill="#f8dfd4"/>
<rect x="125.1" y="290.7" width="20.4" height="16.5" fill="#1d82c4"/>
<path d="M23.1 208.2V307.2M43.5 208.2V307.2M63.9 208.2V307.2M84.3 208.2V307.2M104.7 208.2V307.2M125.1 208.2V307.2M145.5 208.2V307.2M23.1 208.2H145.5M23.1 224.7H145.5M23.1 241.2H145.5M23.1 257.7H145.5M23.1 274.2H145.5M23.1 290.7H145.5M23.1 307.2H145.5" stroke="#6e6e6e" stroke-width="0.55" fill="none"/>
<text font-size="5.4" text-anchor="middle" fill="#e6f0f9" stroke="#e6f0f9" stroke-width="0.12" transform="translate(33.3 218.75) rotate(0.03) scale(1 1.06)">15</text>
<text font-size="5.4" text-anchor="middle" fill="#222" stroke="#222" stroke-width="0.12" transform="translate(53.7 218.75) rotate(0.03) scale(1 1.06)">1</text>
<text font-size="5.4" text-anchor="middle" fill="#e6f0f9" stroke="#e6f0f9" stroke-width="0.12" transform="translate(53.7 235.25) rotate(0.03) scale(1 1.06)">13</text>
<text font-size="5.4" text-anchor="middle" fill="#222" stroke="#222" stroke-width="0.12" transform="translate(135.3 235.25) rotate(0.03) scale(1 1.06)">3</text>
<text font-size="5.4" text-anchor="middle" fill="#222" stroke="#222" stroke-width="0.12" transform="translate(53.7 251.75) rotate(0.03) scale(1 1.06)">2</text>
<text font-size="5.4" text-anchor="middle" fill="#e6f0f9" stroke="#e6f0f9" stroke-width="0.12" transform="translate(74.1 251.75) rotate(0.03) scale(1 1.06)">14</text>
<text font-size="5.4" text-anchor="middle" fill="#e6f0f9" stroke="#e6f0f9" stroke-width="0.12" transform="translate(94.5 268.25) rotate(0.03) scale(1 1.06)">13</text>
<text font-size="5.4" text-anchor="middle" fill="#222" stroke="#222" stroke-width="0.12" transform="translate(114.9 268.25) rotate(0.03) scale(1 1.06)">1</text>
<text font-size="5.4" text-anchor="middle" fill="#222" stroke="#222" stroke-width="0.12" transform="translate(135.3 268.25) rotate(0.03) scale(1 1.06)">2</text>
<text font-size="5.4" text-anchor="middle" fill="#222" stroke="#222" stroke-width="0.12" transform="translate(94.5 284.75) rotate(0.03) scale(1 1.06)">1</text>
<text font-size="5.4" text-anchor="middle" fill="#e6f0f9" stroke="#e6f0f9" stroke-width="0.12" transform="translate(114.9 284.75) rotate(0.03) scale(1 1.06)">15</text>
<text font-size="5.4" text-anchor="middle" fill="#222" stroke="#222" stroke-width="0.12" transform="translate(53.7 301.25) rotate(0.03) scale(1 1.06)">1</text>
<text font-size="5.4" text-anchor="middle" fill="#222" stroke="#222" stroke-width="0.12" transform="translate(114.9 301.25) rotate(0.03) scale(1 1.06)">2</text>
<text font-size="5.4" text-anchor="middle" fill="#e6f0f9" stroke="#e6f0f9" stroke-width="0.12" transform="translate(135.3 301.25) rotate(0.03) scale(1 1.06)">13</text>
<text font-size="5.7" text-anchor="end" fill="#3a3a3a" stroke="#3a3a3a" stroke-width="0.14" transform="translate(21 218.96) rotate(0.03) scale(1 1.06)">P-1</text>
<text font-size="5.7" text-anchor="end" fill="#3a3a3a" stroke="#3a3a3a" stroke-width="0.14" transform="translate(21 235.46) rotate(0.03) scale(1 1.06)">P-2</text>
<text font-size="5.7" text-anchor="end" fill="#3a3a3a" stroke="#3a3a3a" stroke-width="0.14" transform="translate(21 251.96) rotate(0.03) scale(1 1.06)">P-3</text>
<text font-size="5.7" text-anchor="end" fill="#3a3a3a" stroke="#3a3a3a" stroke-width="0.14" transform="translate(21 268.46) rotate(0.03) scale(1 1.06)">P-4</text>
<text font-size="5.7" text-anchor="end" fill="#3a3a3a" stroke="#3a3a3a" stroke-width="0.14" transform="translate(21 284.96) rotate(0.03) scale(1 1.06)">P-5</text>
<text font-size="5.7" text-anchor="end" fill="#3a3a3a" stroke="#3a3a3a" stroke-width="0.14" transform="translate(21 301.46) rotate(0.03) scale(1 1.06)">P-6</text>
<text font-size="5.9" text-anchor="middle" fill="#000" stroke="#000" stroke-width="0.1" font-weight="bold" transform="translate(111.9 205.4) rotate(0.03) scale(1 1.06)">Acc=0.86458</text>
<text font-size="5.9" text-anchor="middle" fill="#3a3a3a" stroke="#3a3a3a" stroke-width="0.14" transform="translate(8.3 280.5) rotate(-90) scale(1.06 1)">True Class</text>
<rect x="164" y="208.2" width="36.3" height="99" fill="#fff"/>
<rect x="164" y="208.2" width="18.15" height="16.5" fill="#0e79c1"/>
<rect x="182.15" y="208.2" width="18.15" height="16.5" fill="#faebe4"/>
<rect x="164" y="224.7" width="18.15" height="16.5" fill="#2988c8"/>
<rect x="182.15" y="224.7" width="18.15" height="16.5" fill="#f6d6c9"/>
<rect x="164" y="241.2" width="18.15" height="16.5" fill="#1b81c4"/>
<rect x="182.15" y="241.2" width="18.15" height="16.5" fill="#f8e0d6"/>
<rect x="164" y="257.7" width="18.15" height="16.5" fill="#2988c8"/>
<rect x="182.15" y="257.7" width="18.15" height="16.5" fill="#f6d6c9"/>
<rect x="164" y="274.2" width="18.15" height="16.5" fill="#0e79c1"/>
<rect x="182.15" y="274.2" width="18.15" height="16.5" fill="#faebe4"/>
<rect x="164" y="290.7" width="18.15" height="16.5" fill="#2988c8"/>
<rect x="182.15" y="290.7" width="18.15" height="16.5" fill="#f6d6c9"/>
<path d="M164 208.2V307.2M182.15 208.2V307.2M200.3 208.2V307.2M164 208.2H200.3M164 224.7H200.3M164 241.2H200.3M164 257.7H200.3M164 274.2H200.3M164 290.7H200.3M164 307.2H200.3" stroke="#6e6e6e" stroke-width="0.55" fill="none"/>
<text font-size="5.1" text-anchor="middle" fill="#d4e5f5" stroke="#d4e5f5" stroke-width="0.12" transform="translate(173.07 218.64) rotate(0.03) scale(1 1.06)">93.8%</text>
<text font-size="5.1" text-anchor="middle" fill="#222" stroke="#222" stroke-width="0.12" transform="translate(191.23 218.64) rotate(0.03) scale(1 1.06)">6.2%</text>
<text font-size="5.1" text-anchor="middle" fill="#d4e5f5" stroke="#d4e5f5" stroke-width="0.12" transform="translate(173.07 235.14) rotate(0.03) scale(1 1.06)">81.2%</text>
<text font-size="5.1" text-anchor="middle" fill="#222" stroke="#222" stroke-width="0.12" transform="translate(191.23 235.14) rotate(0.03) scale(1 1.06)">18.8%</text>
<text font-size="5.1" text-anchor="middle" fill="#d4e5f5" stroke="#d4e5f5" stroke-width="0.12" transform="translate(173.07 251.64) rotate(0.03) scale(1 1.06)">87.5%</text>
<text font-size="5.1" text-anchor="middle" fill="#222" stroke="#222" stroke-width="0.12" transform="translate(191.23 251.64) rotate(0.03) scale(1 1.06)">12.5%</text>
<text font-size="5.1" text-anchor="middle" fill="#d4e5f5" stroke="#d4e5f5" stroke-width="0.12" transform="translate(173.07 268.14) rotate(0.03) scale(1 1.06)">81.2%</text>
<text font-size="5.1" text-anchor="middle" fill="#222" stroke="#222" stroke-width="0.12" transform="translate(191.23 268.14) rotate(0.03) scale(1 1.06)">18.8%</text>
<text font-size="5.1" text-anchor="middle" fill="#d4e5f5" stroke="#d4e5f5" stroke-width="0.12" transform="translate(173.07 284.64) rotate(0.03) scale(1 1.06)">93.8%</text>
<text font-size="5.1" text-anchor="middle" fill="#222" stroke="#222" stroke-width="0.12" transform="translate(191.23 284.64) rotate(0.03) scale(1 1.06)">6.2%</text>
<text font-size="5.1" text-anchor="middle" fill="#d4e5f5" stroke="#d4e5f5" stroke-width="0.12" transform="translate(173.07 301.14) rotate(0.03) scale(1 1.06)">81.2%</text>
<text font-size="5.1" text-anchor="middle" fill="#222" stroke="#222" stroke-width="0.12" transform="translate(191.23 301.14) rotate(0.03) scale(1 1.06)">18.8%</text>
<rect x="23.1" y="322.8" width="122.4" height="28.9" fill="#fff"/>
<rect x="23.1" y="322.8" width="20.4" height="14.45" fill="#0072bd"/>
<rect x="43.5" y="322.8" width="20.4" height="14.45" fill="#338eca"/>
<rect x="43.5" y="337.25" width="20.4" height="14.45" fill="#f4cfbe"/>
<rect x="63.9" y="322.8" width="20.4" height="14.45" fill="#0072bd"/>
<rect x="84.3" y="322.8" width="20.4" height="14.45" fill="#0f7bc1"/>
<rect x="84.3" y="337.25" width="20.4" height="14.45" fill="#fae9e2"/>
<rect x="104.7" y="322.8" width="20.4" height="14.45" fill="#2486c6"/>
<rect x="104.7" y="337.25" width="20.4" height="14.45" fill="#f7dacd"/>
<rect x="125.1" y="322.8" width="20.4" height="14.45" fill="#3c93cd"/>
<rect x="125.1" y="337.25" width="20.4" height="14.45" fill="#f3c8b5"/>
<path d="M23.1 322.8V351.7M43.5 322.8V351.7M63.9 322.8V351.7M84.3 322.8V351.7M104.7 322.8V351.7M125.1 322.8V351.7M145.5 322.8V351.7M23.1 322.8H145.5M23.1 337.25H145.5M23.1 351.7H145.5" stroke="#6e6e6e" stroke-width="0.55" fill="none"/>
<text font-size="5" text-anchor="middle" fill="#d4e5f5" stroke="#d4e5f5" stroke-width="0.12" transform="translate(33.3 332.17) rotate(0.03) scale(1 1.06)">100.0%</text>
<text font-size="5" text-anchor="middle" fill="#d4e5f5" stroke="#d4e5f5" stroke-width="0.12" transform="translate(53.7 332.17) rotate(0.03) scale(1 1.06)">76.5%</text>
<text font-size="5" text-anchor="middle" fill="#222" stroke="#222" stroke-width="0.12" transform="translate(53.7 346.62) rotate(0.03) scale(1 1.06)">23.5%</text>
<text font-size="5" text-anchor="middle" fill="#d4e5f5" stroke="#d4e5f5" stroke-width="0.12" transform="translate(74.1 332.17) rotate(0.03) scale(1 1.06)">100.0%</text>
<text font-size="5" text-anchor="middle" fill="#d4e5f5" stroke="#d4e5f5" stroke-width="0.12" transform="translate(94.5 332.17) rotate(0.03) scale(1 1.06)">92.9%</text>
<text font-size="5" text-anchor="middle" fill="#222" stroke="#222" stroke-width="0.12" transform="translate(94.5 346.62) rotate(0.03) scale(1 1.06)">7.1%</text>
<text font-size="5" text-anchor="middle" fill="#d4e5f5" stroke="#d4e5f5" stroke-width="0.12" transform="translate(114.9 332.17) rotate(0.03) scale(1 1.06)">83.3%</text>
<text font-size="5" text-anchor="middle" fill="#222" stroke="#222" stroke-width="0.12" transform="translate(114.9 346.62) rotate(0.03) scale(1 1.06)">16.7%</text>
<text font-size="5" text-anchor="middle" fill="#1a1a1a" stroke="#1a1a1a" stroke-width="0.12" transform="translate(135.3 332.17) rotate(0.03) scale(1 1.06)">72.2%</text>
<text font-size="5" text-anchor="middle" fill="#222" stroke="#222" stroke-width="0.12" transform="translate(135.3 346.62) rotate(0.03) scale(1 1.06)">27.8%</text>
<text font-size="5.7" text-anchor="middle" fill="#3a3a3a" stroke="#3a3a3a" stroke-width="0.14" transform="translate(33.3 359.6) rotate(0.03) scale(1 1.06)">P-1</text>
<text font-size="5.7" text-anchor="middle" fill="#3a3a3a" stroke="#3a3a3a" stroke-width="0.14" transform="translate(53.7 359.6) rotate(0.03) scale(1 1.06)">P-2</text>
<text font-size="5.7" text-anchor="middle" fill="#3a3a3a" stroke="#3a3a3a" stroke-width="0.14" transform="translate(74.1 359.6) rotate(0.03) scale(1 1.06)">P-3</text>
<text font-size="5.7" text-anchor="middle" fill="#3a3a3a" stroke="#3a3a3a" stroke-width="0.14" transform="translate(94.5 359.6) rotate(0.03) scale(1 1.06)">P-4</text>
<text font-size="5.7" text-anchor="middle" fill="#3a3a3a" stroke="#3a3a3a" stroke-width="0.14" transform="translate(114.9 359.6) rotate(0.03) scale(1 1.06)">P-5</text>
<text font-size="5.7" text-anchor="middle" fill="#3a3a3a" stroke="#3a3a3a" stroke-width="0.14" transform="translate(135.3 359.6) rotate(0.03) scale(1 1.06)">P-6</text>
<text font-size="5.9" text-anchor="middle" fill="#3a3a3a" stroke="#3a3a3a" stroke-width="0.14" transform="translate(112.2 367.5) rotate(0.03) scale(1 1.06)">Predicted Class</text>
<rect x="222.3" y="208.3" width="178.1" height="143.5" fill="#fff"/>
<path d="M222.3 351.8v-1.6M222.3 208.3v1.6M240.11 351.8v-1.6M240.11 208.3v1.6M257.92 351.8v-1.6M257.92 208.3v1.6M275.73 351.8v-1.6M275.73 208.3v1.6M293.54 351.8v-1.6M293.54 208.3v1.6M311.35 351.8v-1.6M311.35 208.3v1.6M329.16 351.8v-1.6M329.16 208.3v1.6M346.97 351.8v-1.6M346.97 208.3v1.6M364.78 351.8v-1.6M364.78 208.3v1.6M382.59 351.8v-1.6M382.59 208.3v1.6M400.4 351.8v-1.6M400.4 208.3v1.6M222.3 340h1.6M400.4 340h-1.6M222.3 315.96h1.6M400.4 315.96h-1.6M222.3 291.92h1.6M400.4 291.92h-1.6M222.3 267.88h1.6M400.4 267.88h-1.6M222.3 243.84h1.6M400.4 243.84h-1.6M222.3 219.8h1.6M400.4 219.8h-1.6" stroke="#7d7d7d" stroke-width="0.6" fill="none"/>
<path d="M224.08 340L225.86 340M265.04 315.96L266.82 315.96M266.82 315.96L268.61 315.96M268.61 315.96L270.39 315.96M275.73 315.96L277.51 315.96M277.51 315.96L279.29 315.96M282.85 291.92L284.63 291.92M284.63 291.92L286.42 291.92M298.88 291.92L300.66 291.92M300.66 291.92L302.44 291.92M318.47 267.88L320.25 267.88M320.25 267.88L322.04 267.88M330.94 267.88L332.72 267.88M332.72 267.88L334.5 267.88M334.5 267.88L336.28 267.88M355.88 243.84L357.66 243.84M357.66 243.84L359.44 243.84M371.9 219.8L373.68 219.8M373.68 219.8L375.47 219.8M377.25 219.8L379.03 219.8M379.03 219.8L380.81 219.8M391.5 219.8L393.28 219.8" fill="none" stroke="#3d8fcd" stroke-width="0.7"/>
<g fill="none" stroke="#3a8dd0" stroke-width="0.62"><circle cx="224.08" cy="340" r="1.6"/><circle cx="225.86" cy="340" r="1.6"/><circle cx="227.64" cy="340" r="1.6"/><circle cx="229.42" cy="340" r="1.6"/><circle cx="231.21" cy="340" r="1.6"/><circle cx="232.99" cy="340" r="1.6"/><circle cx="234.77" cy="340" r="1.6"/><circle cx="236.55" cy="340" r="1.6"/><circle cx="238.33" cy="340" r="1.6"/><circle cx="240.11" cy="340" r="1.6"/><circle cx="241.89" cy="340" r="1.6"/><circle cx="243.67" cy="340" r="1.6"/><circle cx="245.45" cy="340" r="1.6"/><circle cx="247.23" cy="340" r="1.6"/><circle cx="249.02" cy="340" r="1.6"/><circle cx="250.8" cy="340" r="1.6"/><circle cx="252.58" cy="315.96" r="1.6"/><circle cx="254.36" cy="315.96" r="1.6"/><circle cx="256.14" cy="315.96" r="1.6"/><circle cx="257.92" cy="315.96" r="1.6"/><circle cx="259.7" cy="315.96" r="1.6"/><circle cx="261.48" cy="315.96" r="1.6"/><circle cx="263.26" cy="315.96" r="1.6"/><circle cx="265.04" cy="315.96" r="1.6"/><circle cx="266.82" cy="315.96" r="1.6"/><circle cx="268.61" cy="315.96" r="1.6"/><circle cx="270.39" cy="315.96" r="1.6"/><circle cx="272.17" cy="315.96" r="1.6"/><circle cx="273.95" cy="315.96" r="1.6"/><circle cx="275.73" cy="315.96" r="1.6"/><circle cx="277.51" cy="315.96" r="1.6"/><circle cx="279.29" cy="315.96" r="1.6"/><circle cx="281.07" cy="291.92" r="1.6"/><circle cx="282.85" cy="291.92" r="1.6"/><circle cx="284.63" cy="291.92" r="1.6"/><circle cx="286.42" cy="291.92" r="1.6"/><circle cx="288.2" cy="291.92" r="1.6"/><circle cx="289.98" cy="291.92" r="1.6"/><circle cx="291.76" cy="291.92" r="1.6"/><circle cx="293.54" cy="291.92" r="1.6"/><circle cx="295.32" cy="291.92" r="1.6"/><circle cx="297.1" cy="291.92" r="1.6"/><circle cx="298.88" cy="291.92" r="1.6"/><circle cx="300.66" cy="291.92" r="1.6"/><circle cx="302.44" cy="291.92" r="1.6"/><circle cx="304.23" cy="291.92" r="1.6"/><circle cx="306.01" cy="291.92" r="1.6"/><circle cx="307.79" cy="291.92" r="1.6"/><circle cx="309.57" cy="267.88" r="1.6"/><circle cx="311.35" cy="267.88" r="1.6"/><circle cx="313.13" cy="267.88" r="1.6"/><circle cx="314.91" cy="267.88" r="1.6"/><circle cx="316.69" cy="267.88" r="1.6"/><circle cx="318.47" cy="267.88" r="1.6"/><circle cx="320.25" cy="267.88" r="1.6"/><circle cx="322.04" cy="267.88" r="1.6"/><circle cx="323.82" cy="267.88" r="1.6"/><circle cx="325.6" cy="267.88" r="1.6"/><circle cx="327.38" cy="267.88" r="1.6"/><circle cx="329.16" cy="267.88" r="1.6"/><circle cx="330.94" cy="267.88" r="1.6"/><circle cx="332.72" cy="267.88" r="1.6"/><circle cx="334.5" cy="267.88" r="1.6"/><circle cx="336.28" cy="267.88" r="1.6"/><circle cx="338.06" cy="243.84" r="1.6"/><circle cx="339.85" cy="243.84" r="1.6"/><circle cx="341.63" cy="243.84" r="1.6"/><circle cx="343.41" cy="243.84" r="1.6"/><circle cx="345.19" cy="243.84" r="1.6"/><circle cx="346.97" cy="243.84" r="1.6"/><circle cx="348.75" cy="243.84" r="1.6"/><circle cx="350.53" cy="243.84" r="1.6"/><circle cx="352.31" cy="243.84" r="1.6"/><circle cx="354.09" cy="243.84" r="1.6"/><circle cx="355.88" cy="243.84" r="1.6"/><circle cx="357.66" cy="243.84" r="1.6"/><circle cx="359.44" cy="243.84" r="1.6"/><circle cx="361.22" cy="243.84" r="1.6"/><circle cx="363" cy="243.84" r="1.6"/><circle cx="364.78" cy="243.84" r="1.6"/><circle cx="366.56" cy="219.8" r="1.6"/><circle cx="368.34" cy="219.8" r="1.6"/><circle cx="370.12" cy="219.8" r="1.6"/><circle cx="371.9" cy="219.8" r="1.6"/><circle cx="373.68" cy="219.8" r="1.6"/><circle cx="375.47" cy="219.8" r="1.6"/><circle cx="377.25" cy="219.8" r="1.6"/><circle cx="379.03" cy="219.8" r="1.6"/><circle cx="380.81" cy="219.8" r="1.6"/><circle cx="382.59" cy="219.8" r="1.6"/><circle cx="384.37" cy="219.8" r="1.6"/><circle cx="386.15" cy="219.8" r="1.6"/><circle cx="387.93" cy="219.8" r="1.6"/><circle cx="389.71" cy="219.8" r="1.6"/><circle cx="391.5" cy="219.8" r="1.6"/><circle cx="393.28" cy="219.8" r="1.6"/></g>
<polyline points="224.08,315.96 225.86,340 227.64,340 229.42,340 231.21,340 232.99,340 234.77,340 236.55,340 238.33,340 240.11,340 241.89,340 243.67,340 245.45,340 247.23,340 249.02,340 250.8,340 252.58,315.96 254.36,315.96 256.14,315.96 257.92,315.96 259.7,315.96 261.48,315.96 263.26,315.96 265.04,315.96 266.82,219.8 268.61,219.8 270.39,315.96 272.17,315.96 273.95,315.96 275.73,315.96 277.51,219.8 279.29,315.96 281.07,291.92 282.85,291.92 284.63,315.96 286.42,291.92 288.2,291.92 289.98,291.92 291.76,291.92 293.54,291.92 295.32,291.92 297.1,291.92 298.88,291.92 300.66,315.96 302.44,291.92 304.23,291.92 306.01,291.92 307.79,291.92 309.57,267.88 311.35,267.88 313.13,267.88 314.91,267.88 316.69,267.88 318.47,267.88 320.25,219.8 322.04,267.88 323.82,267.88 325.6,267.88 327.38,267.88 329.16,267.88 330.94,267.88 332.72,219.8 334.5,243.84 336.28,267.88 338.06,243.84 339.85,243.84 341.63,243.84 343.41,243.84 345.19,243.84 346.97,243.84 348.75,243.84 350.53,243.84 352.31,243.84 354.09,243.84 355.88,243.84 357.66,267.88 359.44,243.84 361.22,243.84 363,243.84 364.78,243.84 366.56,219.8 368.34,219.8 370.12,219.8 371.9,219.8 373.68,315.96 375.47,219.8 377.25,219.8 379.03,243.84 380.81,219.8 382.59,219.8 384.37,219.8 386.15,219.8 387.93,219.8 389.71,219.8 391.5,219.8 393.28,243.84" fill="none" stroke="#e0632c" stroke-width="0.5" stroke-linejoin="round"/>
<path d="M222.78 315.96h2.6M224.08 314.66v2.6M223.16 315.04l1.84 1.84M223.16 316.88l1.84 -1.84M224.56 340h2.6M225.86 338.7v2.6M224.94 339.08l1.84 1.84M224.94 340.92l1.84 -1.84M226.34 340h2.6M227.64 338.7v2.6M226.72 339.08l1.84 1.84M226.72 340.92l1.84 -1.84M228.12 340h2.6M229.42 338.7v2.6M228.5 339.08l1.84 1.84M228.5 340.92l1.84 -1.84M229.91 340h2.6M231.21 338.7v2.6M230.29 339.08l1.84 1.84M230.29 340.92l1.84 -1.84M231.69 340h2.6M232.99 338.7v2.6M232.07 339.08l1.84 1.84M232.07 340.92l1.84 -1.84M233.47 340h2.6M234.77 338.7v2.6M233.85 339.08l1.84 1.84M233.85 340.92l1.84 -1.84M235.25 340h2.6M236.55 338.7v2.6M235.63 339.08l1.84 1.84M235.63 340.92l1.84 -1.84M237.03 340h2.6M238.33 338.7v2.6M237.41 339.08l1.84 1.84M237.41 340.92l1.84 -1.84M238.81 340h2.6M240.11 338.7v2.6M239.19 339.08l1.84 1.84M239.19 340.92l1.84 -1.84M240.59 340h2.6M241.89 338.7v2.6M240.97 339.08l1.84 1.84M240.97 340.92l1.84 -1.84M242.37 340h2.6M243.67 338.7v2.6M242.75 339.08l1.84 1.84M242.75 340.92l1.84 -1.84M244.15 340h2.6M245.45 338.7v2.6M244.53 339.08l1.84 1.84M244.53 340.92l1.84 -1.84M245.93 340h2.6M247.23 338.7v2.6M246.31 339.08l1.84 1.84M246.31 340.92l1.84 -1.84M247.72 340h2.6M249.02 338.7v2.6M248.1 339.08l1.84 1.84M248.1 340.92l1.84 -1.84M249.5 340h2.6M250.8 338.7v2.6M249.88 339.08l1.84 1.84M249.88 340.92l1.84 -1.84M251.28 315.96h2.6M252.58 314.66v2.6M251.66 315.04l1.84 1.84M251.66 316.88l1.84 -1.84M253.06 315.96h2.6M254.36 314.66v2.6M253.44 315.04l1.84 1.84M253.44 316.88l1.84 -1.84M254.84 315.96h2.6M256.14 314.66v2.6M255.22 315.04l1.84 1.84M255.22 316.88l1.84 -1.84M256.62 315.96h2.6M257.92 314.66v2.6M257 315.04l1.84 1.84M257 316.88l1.84 -1.84M258.4 315.96h2.6M259.7 314.66v2.6M258.78 315.04l1.84 1.84M258.78 316.88l1.84 -1.84M260.18 315.96h2.6M261.48 314.66v2.6M260.56 315.04l1.84 1.84M260.56 316.88l1.84 -1.84M261.96 315.96h2.6M263.26 314.66v2.6M262.34 315.04l1.84 1.84M262.34 316.88l1.84 -1.84M263.74 315.96h2.6M265.04 314.66v2.6M264.12 315.04l1.84 1.84M264.12 316.88l1.84 -1.84M265.52 219.8h2.6M266.82 218.5v2.6M265.91 218.88l1.84 1.84M265.91 220.72l1.84 -1.84M267.31 219.8h2.6M268.61 218.5v2.6M267.69 218.88l1.84 1.84M267.69 220.72l1.84 -1.84M269.09 315.96h2.6M270.39 314.66v2.6M269.47 315.04l1.84 1.84M269.47 316.88l1.84 -1.84M270.87 315.96h2.6M272.17 314.66v2.6M271.25 315.04l1.84 1.84M271.25 316.88l1.84 -1.84M272.65 315.96h2.6M273.95 314.66v2.6M273.03 315.04l1.84 1.84M273.03 316.88l1.84 -1.84M274.43 315.96h2.6M275.73 314.66v2.6M274.81 315.04l1.84 1.84M274.81 316.88l1.84 -1.84M276.21 219.8h2.6M277.51 218.5v2.6M276.59 218.88l1.84 1.84M276.59 220.72l1.84 -1.84M277.99 315.96h2.6M279.29 314.66v2.6M278.37 315.04l1.84 1.84M278.37 316.88l1.84 -1.84M279.77 291.92h2.6M281.07 290.62v2.6M280.15 291l1.84 1.84M280.15 292.84l1.84 -1.84M281.55 291.92h2.6M282.85 290.62v2.6M281.93 291l1.84 1.84M281.93 292.84l1.84 -1.84M283.33 315.96h2.6M284.63 314.66v2.6M283.72 315.04l1.84 1.84M283.72 316.88l1.84 -1.84M285.12 291.92h2.6M286.42 290.62v2.6M285.5 291l1.84 1.84M285.5 292.84l1.84 -1.84M286.9 291.92h2.6M288.2 290.62v2.6M287.28 291l1.84 1.84M287.28 292.84l1.84 -1.84M288.68 291.92h2.6M289.98 290.62v2.6M289.06 291l1.84 1.84M289.06 292.84l1.84 -1.84M290.46 291.92h2.6M291.76 290.62v2.6M290.84 291l1.84 1.84M290.84 292.84l1.84 -1.84M292.24 291.92h2.6M293.54 290.62v2.6M292.62 291l1.84 1.84M292.62 292.84l1.84 -1.84M294.02 291.92h2.6M295.32 290.62v2.6M294.4 291l1.84 1.84M294.4 292.84l1.84 -1.84M295.8 291.92h2.6M297.1 290.62v2.6M296.18 291l1.84 1.84M296.18 292.84l1.84 -1.84M297.58 291.92h2.6M298.88 290.62v2.6M297.96 291l1.84 1.84M297.96 292.84l1.84 -1.84M299.36 315.96h2.6M300.66 314.66v2.6M299.74 315.04l1.84 1.84M299.74 316.88l1.84 -1.84M301.14 291.92h2.6M302.44 290.62v2.6M301.53 291l1.84 1.84M301.53 292.84l1.84 -1.84M302.93 291.92h2.6M304.23 290.62v2.6M303.31 291l1.84 1.84M303.31 292.84l1.84 -1.84M304.71 291.92h2.6M306.01 290.62v2.6M305.09 291l1.84 1.84M305.09 292.84l1.84 -1.84M306.49 291.92h2.6M307.79 290.62v2.6M306.87 291l1.84 1.84M306.87 292.84l1.84 -1.84M308.27 267.88h2.6M309.57 266.58v2.6M308.65 266.96l1.84 1.84M308.65 268.8l1.84 -1.84M310.05 267.88h2.6M311.35 266.58v2.6M310.43 266.96l1.84 1.84M310.43 268.8l1.84 -1.84M311.83 267.88h2.6M313.13 266.58v2.6M312.21 266.96l1.84 1.84M312.21 268.8l1.84 -1.84M313.61 267.88h2.6M314.91 266.58v2.6M313.99 266.96l1.84 1.84M313.99 268.8l1.84 -1.84M315.39 267.88h2.6M316.69 266.58v2.6M315.77 266.96l1.84 1.84M315.77 268.8l1.84 -1.84M317.17 267.88h2.6M318.47 266.58v2.6M317.55 266.96l1.84 1.84M317.55 268.8l1.84 -1.84M318.95 219.8h2.6M320.25 218.5v2.6M319.34 218.88l1.84 1.84M319.34 220.72l1.84 -1.84M320.74 267.88h2.6M322.04 266.58v2.6M321.12 266.96l1.84 1.84M321.12 268.8l1.84 -1.84M322.52 267.88h2.6M323.82 266.58v2.6M322.9 266.96l1.84 1.84M322.9 268.8l1.84 -1.84M324.3 267.88h2.6M325.6 266.58v2.6M324.68 266.96l1.84 1.84M324.68 268.8l1.84 -1.84M326.08 267.88h2.6M327.38 266.58v2.6M326.46 266.96l1.84 1.84M326.46 268.8l1.84 -1.84M327.86 267.88h2.6M329.16 266.58v2.6M328.24 266.96l1.84 1.84M328.24 268.8l1.84 -1.84M329.64 267.88h2.6M330.94 266.58v2.6M330.02 266.96l1.84 1.84M330.02 268.8l1.84 -1.84M331.42 219.8h2.6M332.72 218.5v2.6M331.8 218.88l1.84 1.84M331.8 220.72l1.84 -1.84M333.2 243.84h2.6M334.5 242.54v2.6M333.58 242.92l1.84 1.84M333.58 244.76l1.84 -1.84M334.98 267.88h2.6M336.28 266.58v2.6M335.36 266.96l1.84 1.84M335.36 268.8l1.84 -1.84M336.76 243.84h2.6M338.06 242.54v2.6M337.15 242.92l1.84 1.84M337.15 244.76l1.84 -1.84M338.55 243.84h2.6M339.85 242.54v2.6M338.93 242.92l1.84 1.84M338.93 244.76l1.84 -1.84M340.33 243.84h2.6M341.63 242.54v2.6M340.71 242.92l1.84 1.84M340.71 244.76l1.84 -1.84M342.11 243.84h2.6M343.41 242.54v2.6M342.49 242.92l1.84 1.84M342.49 244.76l1.84 -1.84M343.89 243.84h2.6M345.19 242.54v2.6M344.27 242.92l1.84 1.84M344.27 244.76l1.84 -1.84M345.67 243.84h2.6M346.97 242.54v2.6M346.05 242.92l1.84 1.84M346.05 244.76l1.84 -1.84M347.45 243.84h2.6M348.75 242.54v2.6M347.83 242.92l1.84 1.84M347.83 244.76l1.84 -1.84M349.23 243.84h2.6M350.53 242.54v2.6M349.61 242.92l1.84 1.84M349.61 244.76l1.84 -1.84M351.01 243.84h2.6M352.31 242.54v2.6M351.39 242.92l1.84 1.84M351.39 244.76l1.84 -1.84M352.79 243.84h2.6M354.09 242.54v2.6M353.17 242.92l1.84 1.84M353.17 244.76l1.84 -1.84M354.57 243.84h2.6M355.88 242.54v2.6M354.96 242.92l1.84 1.84M354.96 244.76l1.84 -1.84M356.36 267.88h2.6M357.66 266.58v2.6M356.74 266.96l1.84 1.84M356.74 268.8l1.84 -1.84M358.14 243.84h2.6M359.44 242.54v2.6M358.52 242.92l1.84 1.84M358.52 244.76l1.84 -1.84M359.92 243.84h2.6M361.22 242.54v2.6M360.3 242.92l1.84 1.84M360.3 244.76l1.84 -1.84M361.7 243.84h2.6M363 242.54v2.6M362.08 242.92l1.84 1.84M362.08 244.76l1.84 -1.84M363.48 243.84h2.6M364.78 242.54v2.6M363.86 242.92l1.84 1.84M363.86 244.76l1.84 -1.84M365.26 219.8h2.6M366.56 218.5v2.6M365.64 218.88l1.84 1.84M365.64 220.72l1.84 -1.84M367.04 219.8h2.6M368.34 218.5v2.6M367.42 218.88l1.84 1.84M367.42 220.72l1.84 -1.84M368.82 219.8h2.6M370.12 218.5v2.6M369.2 218.88l1.84 1.84M369.2 220.72l1.84 -1.84M370.6 219.8h2.6M371.9 218.5v2.6M370.98 218.88l1.84 1.84M370.98 220.72l1.84 -1.84M372.38 315.96h2.6M373.68 314.66v2.6M372.77 315.04l1.84 1.84M372.77 316.88l1.84 -1.84M374.17 219.8h2.6M375.47 218.5v2.6M374.55 218.88l1.84 1.84M374.55 220.72l1.84 -1.84M375.95 219.8h2.6M377.25 218.5v2.6M376.33 218.88l1.84 1.84M376.33 220.72l1.84 -1.84M377.73 243.84h2.6M379.03 242.54v2.6M378.11 242.92l1.84 1.84M378.11 244.76l1.84 -1.84M379.51 219.8h2.6M380.81 218.5v2.6M379.89 218.88l1.84 1.84M379.89 220.72l1.84 -1.84M381.29 219.8h2.6M382.59 218.5v2.6M381.67 218.88l1.84 1.84M381.67 220.72l1.84 -1.84M383.07 219.8h2.6M384.37 218.5v2.6M383.45 218.88l1.84 1.84M383.45 220.72l1.84 -1.84M384.85 219.8h2.6M386.15 218.5v2.6M385.23 218.88l1.84 1.84M385.23 220.72l1.84 -1.84M386.63 219.8h2.6M387.93 218.5v2.6M387.01 218.88l1.84 1.84M387.01 220.72l1.84 -1.84M388.41 219.8h2.6M389.71 218.5v2.6M388.79 218.88l1.84 1.84M388.79 220.72l1.84 -1.84M390.19 219.8h2.6M391.5 218.5v2.6M390.58 218.88l1.84 1.84M390.58 220.72l1.84 -1.84M391.98 243.84h2.6M393.28 242.54v2.6M392.36 242.92l1.84 1.84M392.36 244.76l1.84 -1.84" stroke="#dc5a20" stroke-width="0.36" fill="none"/>
<g fill="#d9531a"><circle cx="224.08" cy="315.96" r="0.7"/><circle cx="225.86" cy="340" r="0.7"/><circle cx="227.64" cy="340" r="0.7"/><circle cx="229.42" cy="340" r="0.7"/><circle cx="231.21" cy="340" r="0.7"/><circle cx="232.99" cy="340" r="0.7"/><circle cx="234.77" cy="340" r="0.7"/><circle cx="236.55" cy="340" r="0.7"/><circle cx="238.33" cy="340" r="0.7"/><circle cx="240.11" cy="340" r="0.7"/><circle cx="241.89" cy="340" r="0.7"/><circle cx="243.67" cy="340" r="0.7"/><circle cx="245.45" cy="340" r="0.7"/><circle cx="247.23" cy="340" r="0.7"/><circle cx="249.02" cy="340" r="0.7"/><circle cx="250.8" cy="340" r="0.7"/><circle cx="252.58" cy="315.96" r="0.7"/><circle cx="254.36" cy="315.96" r="0.7"/><circle cx="256.14" cy="315.96" r="0.7"/><circle cx="257.92" cy="315.96" r="0.7"/><circle cx="259.7" cy="315.96" r="0.7"/><circle cx="261.48" cy="315.96" r="0.7"/><circle cx="263.26" cy="315.96" r="0.7"/><circle cx="265.04" cy="315.96" r="0.7"/><circle cx="266.82" cy="219.8" r="0.7"/><circle cx="268.61" cy="219.8" r="0.7"/><circle cx="270.39" cy="315.96" r="0.7"/><circle cx="272.17" cy="315.96" r="0.7"/><circle cx="273.95" cy="315.96" r="0.7"/><circle cx="275.73" cy="315.96" r="0.7"/><circle cx="277.51" cy="219.8" r="0.7"/><circle cx="279.29" cy="315.96" r="0.7"/><circle cx="281.07" cy="291.92" r="0.7"/><circle cx="282.85" cy="291.92" r="0.7"/><circle cx="284.63" cy="315.96" r="0.7"/><circle cx="286.42" cy="291.92" r="0.7"/><circle cx="288.2" cy="291.92" r="0.7"/><circle cx="289.98" cy="291.92" r="0.7"/><circle cx="291.76" cy="291.92" r="0.7"/><circle cx="293.54" cy="291.92" r="0.7"/><circle cx="295.32" cy="291.92" r="0.7"/><circle cx="297.1" cy="291.92" r="0.7"/><circle cx="298.88" cy="291.92" r="0.7"/><circle cx="300.66" cy="315.96" r="0.7"/><circle cx="302.44" cy="291.92" r="0.7"/><circle cx="304.23" cy="291.92" r="0.7"/><circle cx="306.01" cy="291.92" r="0.7"/><circle cx="307.79" cy="291.92" r="0.7"/><circle cx="309.57" cy="267.88" r="0.7"/><circle cx="311.35" cy="267.88" r="0.7"/><circle cx="313.13" cy="267.88" r="0.7"/><circle cx="314.91" cy="267.88" r="0.7"/><circle cx="316.69" cy="267.88" r="0.7"/><circle cx="318.47" cy="267.88" r="0.7"/><circle cx="320.25" cy="219.8" r="0.7"/><circle cx="322.04" cy="267.88" r="0.7"/><circle cx="323.82" cy="267.88" r="0.7"/><circle cx="325.6" cy="267.88" r="0.7"/><circle cx="327.38" cy="267.88" r="0.7"/><circle cx="329.16" cy="267.88" r="0.7"/><circle cx="330.94" cy="267.88" r="0.7"/><circle cx="332.72" cy="219.8" r="0.7"/><circle cx="334.5" cy="243.84" r="0.7"/><circle cx="336.28" cy="267.88" r="0.7"/><circle cx="338.06" cy="243.84" r="0.7"/><circle cx="339.85" cy="243.84" r="0.7"/><circle cx="341.63" cy="243.84" r="0.7"/><circle cx="343.41" cy="243.84" r="0.7"/><circle cx="345.19" cy="243.84" r="0.7"/><circle cx="346.97" cy="243.84" r="0.7"/><circle cx="348.75" cy="243.84" r="0.7"/><circle cx="350.53" cy="243.84" r="0.7"/><circle cx="352.31" cy="243.84" r="0.7"/><circle cx="354.09" cy="243.84" r="0.7"/><circle cx="355.88" cy="243.84" r="0.7"/><circle cx="357.66" cy="267.88" r="0.7"/><circle cx="359.44" cy="243.84" r="0.7"/><circle cx="361.22" cy="243.84" r="0.7"/><circle cx="363" cy="243.84" r="0.7"/><circle cx="364.78" cy="243.84" r="0.7"/><circle cx="366.56" cy="219.8" r="0.7"/><circle cx="368.34" cy="219.8" r="0.7"/><circle cx="370.12" cy="219.8" r="0.7"/><circle cx="371.9" cy="219.8" r="0.7"/><circle cx="373.68" cy="315.96" r="0.7"/><circle cx="375.47" cy="219.8" r="0.7"/><circle cx="377.25" cy="219.8" r="0.7"/><circle cx="379.03" cy="243.84" r="0.7"/><circle cx="380.81" cy="219.8" r="0.7"/><circle cx="382.59" cy="219.8" r="0.7"/><circle cx="384.37" cy="219.8" r="0.7"/><circle cx="386.15" cy="219.8" r="0.7"/><circle cx="387.93" cy="219.8" r="0.7"/><circle cx="389.71" cy="219.8" r="0.7"/><circle cx="391.5" cy="219.8" r="0.7"/><circle cx="393.28" cy="243.84" r="0.7"/></g>
<rect x="222.3" y="208.3" width="178.1" height="143.5" fill="none" stroke="#9a9a9a" stroke-width="0.9"/>
<text font-size="5.5" text-anchor="middle" fill="#404040" stroke="#404040" stroke-width="0.1" transform="translate(222.3 359.9) rotate(0.03) scale(1 1.06)">0</text>
<text font-size="5.5" text-anchor="middle" fill="#404040" stroke="#404040" stroke-width="0.1" transform="translate(240.11 359.9) rotate(0.03) scale(1 1.06)">10</text>
<text font-size="5.5" text-anchor="middle" fill="#404040" stroke="#404040" stroke-width="0.1" transform="translate(257.92 359.9) rotate(0.03) scale(1 1.06)">20</text>
<text font-size="5.5" text-anchor="middle" fill="#404040" stroke="#404040" stroke-width="0.1" transform="translate(275.73 359.9) rotate(0.03) scale(1 1.06)">30</text>
<text font-size="5.5" text-anchor="middle" fill="#404040" stroke="#404040" stroke-width="0.1" transform="translate(293.54 359.9) rotate(0.03) scale(1 1.06)">40</text>
<text font-size="5.5" text-anchor="middle" fill="#404040" stroke="#404040" stroke-width="0.1" transform="translate(311.35 359.9) rotate(0.03) scale(1 1.06)">50</text>
<text font-size="5.5" text-anchor="middle" fill="#404040" stroke="#404040" stroke-width="0.1" transform="translate(329.16 359.9) rotate(0.03) scale(1 1.06)">60</text>
<text font-size="5.5" text-anchor="middle" fill="#404040" stroke="#404040" stroke-width="0.1" transform="translate(346.97 359.9) rotate(0.03) scale(1 1.06)">70</text>
<text font-size="5.5" text-anchor="middle" fill="#404040" stroke="#404040" stroke-width="0.1" transform="translate(364.78 359.9) rotate(0.03) scale(1 1.06)">80</text>
<text font-size="5.5" text-anchor="middle" fill="#404040" stroke="#404040" stroke-width="0.1" transform="translate(382.59 359.9) rotate(0.03) scale(1 1.06)">90</text>
<text font-size="5.5" text-anchor="middle" fill="#404040" stroke="#404040" stroke-width="0.1" transform="translate(400.4 359.9) rotate(0.03) scale(1 1.06)">100</text>
<text font-size="5.5" text-anchor="end" fill="#404040" stroke="#404040" stroke-width="0.1" transform="translate(220.1 342.09) rotate(0.03) scale(1 1.06)">P-1</text>
<text font-size="5.5" text-anchor="end" fill="#404040" stroke="#404040" stroke-width="0.1" transform="translate(220.1 318.05) rotate(0.03) scale(1 1.06)">P-2</text>
<text font-size="5.5" text-anchor="end" fill="#404040" stroke="#404040" stroke-width="0.1" transform="translate(220.1 294.01) rotate(0.03) scale(1 1.06)">P-3</text>
<text font-size="5.5" text-anchor="end" fill="#404040" stroke="#404040" stroke-width="0.1" transform="translate(220.1 269.97) rotate(0.03) scale(1 1.06)">P-4</text>
<text font-size="5.5" text-anchor="end" fill="#404040" stroke="#404040" stroke-width="0.1" transform="translate(220.1 245.93) rotate(0.03) scale(1 1.06)">P-5</text>
<text font-size="5.5" text-anchor="end" fill="#404040" stroke="#404040" stroke-width="0.1" transform="translate(220.1 221.89) rotate(0.03) scale(1 1.06)">P-6</text>
<rect x="359.4" y="212.4" width="36.6" height="14.9" fill="#fff" stroke="#555" stroke-width="0.5"/>
<path d="M361.3 216.87H377.52" stroke="#3d8fcd" stroke-width="0.75"/>
<circle cx="369.41" cy="216.87" r="1.6" fill="#fff" stroke="#3388cc" stroke-width="0.7"/>
<path d="M361.3 223.43H377.52" stroke="#e2703c" stroke-width="0.75"/>
<path d="M368.11 223.43h2.6M369.41 222.13v2.6M368.49 222.51l1.84 1.84M368.49 224.35l1.84 -1.84" stroke="#dc5a20" stroke-width="0.45" fill="none"/>
<text font-size="4.85" text-anchor="start" fill="#222" stroke="#222" stroke-width="0.2" transform="translate(379.22 218.81) rotate(0.03) scale(1 1.2)">ture</text>
<text font-size="4.85" text-anchor="start" fill="#222" stroke="#222" stroke-width="0.2" transform="translate(379.22 225.37) rotate(0.03) scale(1 1.2)">predict</text>
<text font-size="9" text-anchor="middle" fill="#111" stroke="#111" stroke-width="0.1" font-weight="bold" font-family='"Liberation Serif", "Times New Roman", serif' transform="translate(204.6 381) rotate(0.03) scale(1 1)">(b)</text>
<rect x="26.1" y="395.3" width="114.8" height="84.5" fill="#fff"/>
<rect x="26.1" y="395.3" width="19.13" height="14.08" fill="#0072bd"/>
<rect x="45.23" y="409.38" width="19.13" height="14.08" fill="#0e79c1"/>
<rect x="121.77" y="409.38" width="19.13" height="14.08" fill="#faebe4"/>
<rect x="45.23" y="423.47" width="19.13" height="14.08" fill="#faebe4"/>
<rect x="64.37" y="423.47" width="19.13" height="14.08" fill="#1b81c4"/>
<rect x="121.77" y="423.47" width="19.13" height="14.08" fill="#faebe4"/>
<rect x="83.5" y="437.55" width="19.13" height="14.08" fill="#0e79c1"/>
<rect x="121.77" y="437.55" width="19.13" height="14.08" fill="#faebe4"/>
<rect x="102.63" y="451.63" width="19.13" height="14.08" fill="#0e79c1"/>
<rect x="121.77" y="451.63" width="19.13" height="14.08" fill="#faebe4"/>
<rect x="121.77" y="465.72" width="19.13" height="14.08" fill="#0072bd"/>
<path d="M26.1 395.3V479.8M45.23 395.3V479.8M64.37 395.3V479.8M83.5 395.3V479.8M102.63 395.3V479.8M121.77 395.3V479.8M140.9 395.3V479.8M26.1 395.3H140.9M26.1 409.38H140.9M26.1 423.47H140.9M26.1 437.55H140.9M26.1 451.63H140.9M26.1 465.72H140.9M26.1 479.8H140.9" stroke="#6e6e6e" stroke-width="0.55" fill="none"/>
<text font-size="5" text-anchor="middle" fill="#e6f0f9" stroke="#e6f0f9" stroke-width="0.12" transform="translate(35.67 404.33) rotate(0.03) scale(1 0.97)">16</text>
<text font-size="5" text-anchor="middle" fill="#e6f0f9" stroke="#e6f0f9" stroke-width="0.12" transform="translate(54.8 418.41) rotate(0.03) scale(1 0.97)">15</text>
<text font-size="5" text-anchor="middle" fill="#222" stroke="#222" stroke-width="0.12" transform="translate(131.33 418.41) rotate(0.03) scale(1 0.97)">1</text>
<text font-size="5" text-anchor="middle" fill="#222" stroke="#222" stroke-width="0.12" transform="translate(54.8 432.49) rotate(0.03) scale(1 0.97)">1</text>
<text font-size="5" text-anchor="middle" fill="#e6f0f9" stroke="#e6f0f9" stroke-width="0.12" transform="translate(73.93 432.49) rotate(0.03) scale(1 0.97)">14</text>
<text font-size="5" text-anchor="middle" fill="#222" stroke="#222" stroke-width="0.12" transform="translate(131.33 432.49) rotate(0.03) scale(1 0.97)">1</text>
<text font-size="5" text-anchor="middle" fill="#e6f0f9" stroke="#e6f0f9" stroke-width="0.12" transform="translate(93.07 446.58) rotate(0.03) scale(1 0.97)">15</text>
<text font-size="5" text-anchor="middle" fill="#222" stroke="#222" stroke-width="0.12" transform="translate(131.33 446.58) rotate(0.03) scale(1 0.97)">1</text>
<text font-size="5" text-anchor="middle" fill="#e6f0f9" stroke="#e6f0f9" stroke-width="0.12" transform="translate(112.2 460.66) rotate(0.03) scale(1 0.97)">15</text>
<text font-size="5" text-anchor="middle" fill="#222" stroke="#222" stroke-width="0.12" transform="translate(131.33 460.66) rotate(0.03) scale(1 0.97)">1</text>
<text font-size="5" text-anchor="middle" fill="#e6f0f9" stroke="#e6f0f9" stroke-width="0.12" transform="translate(131.33 474.74) rotate(0.03) scale(1 0.97)">16</text>
<text font-size="5.2" text-anchor="end" fill="#3a3a3a" stroke="#3a3a3a" stroke-width="0.14" transform="translate(24 404.5) rotate(0.03) scale(1 0.97)">P-1</text>
<text font-size="5.2" text-anchor="end" fill="#3a3a3a" stroke="#3a3a3a" stroke-width="0.14" transform="translate(24 418.58) rotate(0.03) scale(1 0.97)">P-2</text>
<text font-size="5.2" text-anchor="end" fill="#3a3a3a" stroke="#3a3a3a" stroke-width="0.14" transform="translate(24 432.66) rotate(0.03) scale(1 0.97)">P-3</text>
<text font-size="5.2" text-anchor="end" fill="#3a3a3a" stroke="#3a3a3a" stroke-width="0.14" transform="translate(24 446.75) rotate(0.03) scale(1 0.97)">P-4</text>
<text font-size="5.2" text-anchor="end" fill="#3a3a3a" stroke="#3a3a3a" stroke-width="0.14" transform="translate(24 460.83) rotate(0.03) scale(1 0.97)">P-5</text>
<text font-size="5.2" text-anchor="end" fill="#3a3a3a" stroke="#3a3a3a" stroke-width="0.14" transform="translate(24 474.91) rotate(0.03) scale(1 0.97)">P-6</text>
<text font-size="5.6" text-anchor="middle" fill="#000" stroke="#000" stroke-width="0.1" font-weight="bold" transform="translate(109.8 393.4) rotate(0.03) scale(1 0.97)">Acc=0.94792</text>
<text font-size="5.5" text-anchor="middle" fill="#3a3a3a" stroke="#3a3a3a" stroke-width="0.14" transform="translate(13.4 457) rotate(-90) scale(0.97 1)">True Class</text>
<rect x="157.9" y="395.3" width="34.2" height="84.5" fill="#fff"/>
<rect x="157.9" y="395.3" width="17.1" height="14.08" fill="#0072bd"/>
<rect x="157.9" y="409.38" width="17.1" height="14.08" fill="#0e79c1"/>
<rect x="175" y="409.38" width="17.1" height="14.08" fill="#faebe4"/>
<rect x="157.9" y="423.47" width="17.1" height="14.08" fill="#1b81c4"/>
<rect x="175" y="423.47" width="17.1" height="14.08" fill="#f8e0d6"/>
<rect x="157.9" y="437.55" width="17.1" height="14.08" fill="#0e79c1"/>
<rect x="175" y="437.55" width="17.1" height="14.08" fill="#faebe4"/>
<rect x="157.9" y="451.63" width="17.1" height="14.08" fill="#0e79c1"/>
<rect x="175" y="451.63" width="17.1" height="14.08" fill="#faebe4"/>
<rect x="157.9" y="465.72" width="17.1" height="14.08" fill="#0072bd"/>
<path d="M157.9 395.3V479.8M175 395.3V479.8M192.1 395.3V479.8M157.9 395.3H192.1M157.9 409.38H192.1M157.9 423.47H192.1M157.9 437.55H192.1M157.9 451.63H192.1M157.9 465.72H192.1M157.9 479.8H192.1" stroke="#6e6e6e" stroke-width="0.55" fill="none"/>
<text font-size="4.25" text-anchor="middle" fill="#d4e5f5" stroke="#d4e5f5" stroke-width="0.12" transform="translate(166.45 404.07) rotate(0.03) scale(1 0.97)">100.0%</text>
<text font-size="4.25" text-anchor="middle" fill="#d4e5f5" stroke="#d4e5f5" stroke-width="0.12" transform="translate(166.45 418.15) rotate(0.03) scale(1 0.97)">93.8%</text>
<text font-size="4.25" text-anchor="middle" fill="#222" stroke="#222" stroke-width="0.12" transform="translate(183.55 418.15) rotate(0.03) scale(1 0.97)">6.2%</text>
<text font-size="4.25" text-anchor="middle" fill="#d4e5f5" stroke="#d4e5f5" stroke-width="0.12" transform="translate(166.45 432.23) rotate(0.03) scale(1 0.97)">87.5%</text>
<text font-size="4.25" text-anchor="middle" fill="#222" stroke="#222" stroke-width="0.12" transform="translate(183.55 432.23) rotate(0.03) scale(1 0.97)">12.5%</text>
<text font-size="4.25" text-anchor="middle" fill="#d4e5f5" stroke="#d4e5f5" stroke-width="0.12" transform="translate(166.45 446.32) rotate(0.03) scale(1 0.97)">93.8%</text>
<text font-size="4.25" text-anchor="middle" fill="#222" stroke="#222" stroke-width="0.12" transform="translate(183.55 446.32) rotate(0.03) scale(1 0.97)">6.2%</text>
<text font-size="4.25" text-anchor="middle" fill="#d4e5f5" stroke="#d4e5f5" stroke-width="0.12" transform="translate(166.45 460.4) rotate(0.03) scale(1 0.97)">93.8%</text>
<text font-size="4.25" text-anchor="middle" fill="#222" stroke="#222" stroke-width="0.12" transform="translate(183.55 460.4) rotate(0.03) scale(1 0.97)">6.2%</text>
<text font-size="4.25" text-anchor="middle" fill="#d4e5f5" stroke="#d4e5f5" stroke-width="0.12" transform="translate(166.45 474.48) rotate(0.03) scale(1 0.97)">100.0%</text>
<rect x="26.1" y="493" width="114.8" height="24.8" fill="#fff"/>
<rect x="26.1" y="493" width="19.13" height="12.4" fill="#0072bd"/>
<rect x="45.23" y="493" width="19.13" height="12.4" fill="#0e79c1"/>
<rect x="45.23" y="505.4" width="19.13" height="12.4" fill="#faebe4"/>
<rect x="64.37" y="493" width="19.13" height="12.4" fill="#0072bd"/>
<rect x="83.5" y="493" width="19.13" height="12.4" fill="#0072bd"/>
<rect x="102.63" y="493" width="19.13" height="12.4" fill="#0072bd"/>
<rect x="121.77" y="493" width="19.13" height="12.4" fill="#2b8ac8"/>
<rect x="121.77" y="505.4" width="19.13" height="12.4" fill="#f6d4c6"/>
<path d="M26.1 493V517.8M45.23 493V517.8M64.37 493V517.8M83.5 493V517.8M102.63 493V517.8M121.77 493V517.8M140.9 493V517.8M26.1 493H140.9M26.1 505.4H140.9M26.1 517.8H140.9" stroke="#6e6e6e" stroke-width="0.55" fill="none"/>
<text font-size="4.8" text-anchor="middle" fill="#d4e5f5" stroke="#d4e5f5" stroke-width="0.12" transform="translate(35.67 501.12) rotate(0.03) scale(1 0.97)">100.0%</text>
<text font-size="4.8" text-anchor="middle" fill="#d4e5f5" stroke="#d4e5f5" stroke-width="0.12" transform="translate(54.8 501.12) rotate(0.03) scale(1 0.97)">93.8%</text>
<text font-size="4.8" text-anchor="middle" fill="#222" stroke="#222" stroke-width="0.12" transform="translate(54.8 513.52) rotate(0.03) scale(1 0.97)">6.2%</text>
<text font-size="4.8" text-anchor="middle" fill="#d4e5f5" stroke="#d4e5f5" stroke-width="0.12" transform="translate(73.93 501.12) rotate(0.03) scale(1 0.97)">100.0%</text>
<text font-size="4.8" text-anchor="middle" fill="#d4e5f5" stroke="#d4e5f5" stroke-width="0.12" transform="translate(93.07 501.12) rotate(0.03) scale(1 0.97)">100.0%</text>
<text font-size="4.8" text-anchor="middle" fill="#d4e5f5" stroke="#d4e5f5" stroke-width="0.12" transform="translate(112.2 501.12) rotate(0.03) scale(1 0.97)">100.0%</text>
<text font-size="4.8" text-anchor="middle" fill="#d4e5f5" stroke="#d4e5f5" stroke-width="0.12" transform="translate(131.33 501.12) rotate(0.03) scale(1 0.97)">80.0%</text>
<text font-size="4.8" text-anchor="middle" fill="#222" stroke="#222" stroke-width="0.12" transform="translate(131.33 513.52) rotate(0.03) scale(1 0.97)">20.0%</text>
<text font-size="5.2" text-anchor="middle" fill="#3a3a3a" stroke="#3a3a3a" stroke-width="0.14" transform="translate(35.67 524.8) rotate(0.03) scale(1 0.97)">P-1</text>
<text font-size="5.2" text-anchor="middle" fill="#3a3a3a" stroke="#3a3a3a" stroke-width="0.14" transform="translate(54.8 524.8) rotate(0.03) scale(1 0.97)">P-2</text>
<text font-size="5.2" text-anchor="middle" fill="#3a3a3a" stroke="#3a3a3a" stroke-width="0.14" transform="translate(73.93 524.8) rotate(0.03) scale(1 0.97)">P-3</text>
<text font-size="5.2" text-anchor="middle" fill="#3a3a3a" stroke="#3a3a3a" stroke-width="0.14" transform="translate(93.07 524.8) rotate(0.03) scale(1 0.97)">P-4</text>
<text font-size="5.2" text-anchor="middle" fill="#3a3a3a" stroke="#3a3a3a" stroke-width="0.14" transform="translate(112.2 524.8) rotate(0.03) scale(1 0.97)">P-5</text>
<text font-size="5.2" text-anchor="middle" fill="#3a3a3a" stroke="#3a3a3a" stroke-width="0.14" transform="translate(131.33 524.8) rotate(0.03) scale(1 0.97)">P-6</text>
<text font-size="5.5" text-anchor="middle" fill="#3a3a3a" stroke="#3a3a3a" stroke-width="0.14" transform="translate(110.1 531.9) rotate(0.03) scale(1 0.97)">Predicted Class</text>
<rect x="223.6" y="395.8" width="166.1" height="121.6" fill="#fff"/>
<path d="M223.6 517.4v-1.6M223.6 395.8v1.6M240.21 517.4v-1.6M240.21 395.8v1.6M256.82 517.4v-1.6M256.82 395.8v1.6M273.43 517.4v-1.6M273.43 395.8v1.6M290.04 517.4v-1.6M290.04 395.8v1.6M306.65 517.4v-1.6M306.65 395.8v1.6M323.26 517.4v-1.6M323.26 395.8v1.6M339.87 517.4v-1.6M339.87 395.8v1.6M356.48 517.4v-1.6M356.48 395.8v1.6M373.09 517.4v-1.6M373.09 395.8v1.6M389.7 517.4v-1.6M389.7 395.8v1.6M223.6 507.8h1.6M389.7 507.8h-1.6M223.6 487.32h1.6M389.7 487.32h-1.6M223.6 466.84h1.6M389.7 466.84h-1.6M223.6 446.36h1.6M389.7 446.36h-1.6M223.6 425.88h1.6M389.7 425.88h-1.6M223.6 405.4h1.6M389.7 405.4h-1.6" stroke="#7d7d7d" stroke-width="0.6" fill="none"/>
<path d="M253.5 487.32L255.16 487.32M255.16 487.32L256.82 487.32M288.38 466.84L290.04 466.84M290.04 466.84L291.7 466.84M298.35 466.84L300.01 466.84M300.01 466.84L301.67 466.84M328.24 446.36L329.9 446.36M329.9 446.36L331.56 425.88M351.5 425.88L353.16 425.88M353.16 425.88L354.82 425.88" fill="none" stroke="#3d8fcd" stroke-width="0.7"/>
<g fill="none" stroke="#3a8dd0" stroke-width="0.62"><circle cx="225.26" cy="507.8" r="1.35"/><circle cx="226.92" cy="507.8" r="1.35"/><circle cx="228.58" cy="507.8" r="1.35"/><circle cx="230.24" cy="507.8" r="1.35"/><circle cx="231.91" cy="507.8" r="1.35"/><circle cx="233.57" cy="507.8" r="1.35"/><circle cx="235.23" cy="507.8" r="1.35"/><circle cx="236.89" cy="507.8" r="1.35"/><circle cx="238.55" cy="507.8" r="1.35"/><circle cx="240.21" cy="507.8" r="1.35"/><circle cx="241.87" cy="507.8" r="1.35"/><circle cx="243.53" cy="507.8" r="1.35"/><circle cx="245.19" cy="507.8" r="1.35"/><circle cx="246.85" cy="507.8" r="1.35"/><circle cx="248.51" cy="507.8" r="1.35"/><circle cx="250.18" cy="507.8" r="1.35"/><circle cx="251.84" cy="487.32" r="1.35"/><circle cx="253.5" cy="487.32" r="1.35"/><circle cx="255.16" cy="487.32" r="1.35"/><circle cx="256.82" cy="487.32" r="1.35"/><circle cx="258.48" cy="487.32" r="1.35"/><circle cx="260.14" cy="487.32" r="1.35"/><circle cx="261.8" cy="487.32" r="1.35"/><circle cx="263.46" cy="487.32" r="1.35"/><circle cx="265.12" cy="487.32" r="1.35"/><circle cx="266.79" cy="487.32" r="1.35"/><circle cx="268.45" cy="487.32" r="1.35"/><circle cx="270.11" cy="487.32" r="1.35"/><circle cx="271.77" cy="487.32" r="1.35"/><circle cx="273.43" cy="487.32" r="1.35"/><circle cx="275.09" cy="487.32" r="1.35"/><circle cx="276.75" cy="487.32" r="1.35"/><circle cx="278.41" cy="466.84" r="1.35"/><circle cx="280.07" cy="466.84" r="1.35"/><circle cx="281.74" cy="466.84" r="1.35"/><circle cx="283.4" cy="466.84" r="1.35"/><circle cx="285.06" cy="466.84" r="1.35"/><circle cx="286.72" cy="466.84" r="1.35"/><circle cx="288.38" cy="466.84" r="1.35"/><circle cx="290.04" cy="466.84" r="1.35"/><circle cx="291.7" cy="466.84" r="1.35"/><circle cx="293.36" cy="466.84" r="1.35"/><circle cx="295.02" cy="466.84" r="1.35"/><circle cx="296.68" cy="466.84" r="1.35"/><circle cx="298.35" cy="466.84" r="1.35"/><circle cx="300.01" cy="466.84" r="1.35"/><circle cx="301.67" cy="466.84" r="1.35"/><circle cx="303.33" cy="466.84" r="1.35"/><circle cx="304.99" cy="446.36" r="1.35"/><circle cx="306.65" cy="446.36" r="1.35"/><circle cx="308.31" cy="446.36" r="1.35"/><circle cx="309.97" cy="446.36" r="1.35"/><circle cx="311.63" cy="446.36" r="1.35"/><circle cx="313.29" cy="446.36" r="1.35"/><circle cx="314.95" cy="446.36" r="1.35"/><circle cx="316.62" cy="446.36" r="1.35"/><circle cx="318.28" cy="446.36" r="1.35"/><circle cx="319.94" cy="446.36" r="1.35"/><circle cx="321.6" cy="446.36" r="1.35"/><circle cx="323.26" cy="446.36" r="1.35"/><circle cx="324.92" cy="446.36" r="1.35"/><circle cx="326.58" cy="446.36" r="1.35"/><circle cx="328.24" cy="446.36" r="1.35"/><circle cx="329.9" cy="446.36" r="1.35"/><circle cx="331.56" cy="425.88" r="1.35"/><circle cx="333.23" cy="425.88" r="1.35"/><circle cx="334.89" cy="425.88" r="1.35"/><circle cx="336.55" cy="425.88" r="1.35"/><circle cx="338.21" cy="425.88" r="1.35"/><circle cx="339.87" cy="425.88" r="1.35"/><circle cx="341.53" cy="425.88" r="1.35"/><circle cx="343.19" cy="425.88" r="1.35"/><circle cx="344.85" cy="425.88" r="1.35"/><circle cx="346.51" cy="425.88" r="1.35"/><circle cx="348.18" cy="425.88" r="1.35"/><circle cx="349.84" cy="425.88" r="1.35"/><circle cx="351.5" cy="425.88" r="1.35"/><circle cx="353.16" cy="425.88" r="1.35"/><circle cx="354.82" cy="425.88" r="1.35"/><circle cx="356.48" cy="425.88" r="1.35"/></g>
<polyline points="225.26,507.8 226.92,507.8 228.58,507.8 230.24,507.8 231.91,507.8 233.57,507.8 235.23,507.8 236.89,507.8 238.55,507.8 240.21,507.8 241.87,507.8 243.53,507.8 245.19,507.8 246.85,507.8 248.51,507.8 250.18,507.8 251.84,487.32 253.5,487.32 255.16,405.4 256.82,487.32 258.48,487.32 260.14,487.32 261.8,487.32 263.46,487.32 265.12,487.32 266.79,487.32 268.45,487.32 270.11,487.32 271.77,487.32 273.43,487.32 275.09,487.32 276.75,487.32 278.41,466.84 280.07,466.84 281.74,466.84 283.4,466.84 285.06,466.84 286.72,466.84 288.38,466.84 290.04,487.32 291.7,466.84 293.36,466.84 295.02,466.84 296.68,466.84 298.35,466.84 300.01,405.4 301.67,466.84 303.33,466.84 304.99,446.36 306.65,446.36 308.31,446.36 309.97,446.36 311.63,446.36 313.29,446.36 314.95,446.36 316.62,446.36 318.28,446.36 319.94,446.36 321.6,446.36 323.26,446.36 324.92,446.36 326.58,446.36 328.24,446.36 329.9,405.4 331.56,425.88 333.23,425.88 334.89,425.88 336.55,425.88 338.21,425.88 339.87,425.88 341.53,425.88 343.19,425.88 344.85,425.88 346.51,425.88 348.18,425.88 349.84,425.88 351.5,425.88 353.16,405.4 354.82,425.88 356.48,425.88 358.14,405.4 359.8,405.4 361.46,405.4 363.12,405.4 364.78,405.4 366.45,405.4 368.11,405.4 369.77,405.4 371.43,405.4 373.09,405.4 374.75,405.4 376.41,405.4 378.07,405.4 379.73,405.4 381.39,405.4 383.06,405.4" fill="none" stroke="#e0632c" stroke-width="0.5" stroke-linejoin="round"/>
<path d="M224.11 507.8h2.3M225.26 506.65v2.3M224.45 506.99l1.63 1.63M224.45 508.61l1.63 -1.63M225.77 507.8h2.3M226.92 506.65v2.3M226.11 506.99l1.63 1.63M226.11 508.61l1.63 -1.63M227.43 507.8h2.3M228.58 506.65v2.3M227.77 506.99l1.63 1.63M227.77 508.61l1.63 -1.63M229.09 507.8h2.3M230.24 506.65v2.3M229.43 506.99l1.63 1.63M229.43 508.61l1.63 -1.63M230.75 507.8h2.3M231.91 506.65v2.3M231.09 506.99l1.63 1.63M231.09 508.61l1.63 -1.63M232.42 507.8h2.3M233.57 506.65v2.3M232.75 506.99l1.63 1.63M232.75 508.61l1.63 -1.63M234.08 507.8h2.3M235.23 506.65v2.3M234.41 506.99l1.63 1.63M234.41 508.61l1.63 -1.63M235.74 507.8h2.3M236.89 506.65v2.3M236.07 506.99l1.63 1.63M236.07 508.61l1.63 -1.63M237.4 507.8h2.3M238.55 506.65v2.3M237.74 506.99l1.63 1.63M237.74 508.61l1.63 -1.63M239.06 507.8h2.3M240.21 506.65v2.3M239.4 506.99l1.63 1.63M239.4 508.61l1.63 -1.63M240.72 507.8h2.3M241.87 506.65v2.3M241.06 506.99l1.63 1.63M241.06 508.61l1.63 -1.63M242.38 507.8h2.3M243.53 506.65v2.3M242.72 506.99l1.63 1.63M242.72 508.61l1.63 -1.63M244.04 507.8h2.3M245.19 506.65v2.3M244.38 506.99l1.63 1.63M244.38 508.61l1.63 -1.63M245.7 507.8h2.3M246.85 506.65v2.3M246.04 506.99l1.63 1.63M246.04 508.61l1.63 -1.63M247.36 507.8h2.3M248.51 506.65v2.3M247.7 506.99l1.63 1.63M247.7 508.61l1.63 -1.63M249.03 507.8h2.3M250.18 506.65v2.3M249.36 506.99l1.63 1.63M249.36 508.61l1.63 -1.63M250.69 487.32h2.3M251.84 486.17v2.3M251.02 486.51l1.63 1.63M251.02 488.13l1.63 -1.63M252.35 487.32h2.3M253.5 486.17v2.3M252.68 486.51l1.63 1.63M252.68 488.13l1.63 -1.63M254.01 405.4h2.3M255.16 404.25v2.3M254.35 404.59l1.63 1.63M254.35 406.21l1.63 -1.63M255.67 487.32h2.3M256.82 486.17v2.3M256.01 486.51l1.63 1.63M256.01 488.13l1.63 -1.63M257.33 487.32h2.3M258.48 486.17v2.3M257.67 486.51l1.63 1.63M257.67 488.13l1.63 -1.63M258.99 487.32h2.3M260.14 486.17v2.3M259.33 486.51l1.63 1.63M259.33 488.13l1.63 -1.63M260.65 487.32h2.3M261.8 486.17v2.3M260.99 486.51l1.63 1.63M260.99 488.13l1.63 -1.63M262.31 487.32h2.3M263.46 486.17v2.3M262.65 486.51l1.63 1.63M262.65 488.13l1.63 -1.63M263.98 487.32h2.3M265.12 486.17v2.3M264.31 486.51l1.63 1.63M264.31 488.13l1.63 -1.63M265.64 487.32h2.3M266.79 486.17v2.3M265.97 486.51l1.63 1.63M265.97 488.13l1.63 -1.63M267.3 487.32h2.3M268.45 486.17v2.3M267.63 486.51l1.63 1.63M267.63 488.13l1.63 -1.63M268.96 487.32h2.3M270.11 486.17v2.3M269.29 486.51l1.63 1.63M269.29 488.13l1.63 -1.63M270.62 487.32h2.3M271.77 486.17v2.3M270.96 486.51l1.63 1.63M270.96 488.13l1.63 -1.63M272.28 487.32h2.3M273.43 486.17v2.3M272.62 486.51l1.63 1.63M272.62 488.13l1.63 -1.63M273.94 487.32h2.3M275.09 486.17v2.3M274.28 486.51l1.63 1.63M274.28 488.13l1.63 -1.63M275.6 487.32h2.3M276.75 486.17v2.3M275.94 486.51l1.63 1.63M275.94 488.13l1.63 -1.63M277.26 466.84h2.3M278.41 465.69v2.3M277.6 466.03l1.63 1.63M277.6 467.65l1.63 -1.63M278.92 466.84h2.3M280.07 465.69v2.3M279.26 466.03l1.63 1.63M279.26 467.65l1.63 -1.63M280.59 466.84h2.3M281.74 465.69v2.3M280.92 466.03l1.63 1.63M280.92 467.65l1.63 -1.63M282.25 466.84h2.3M283.4 465.69v2.3M282.58 466.03l1.63 1.63M282.58 467.65l1.63 -1.63M283.91 466.84h2.3M285.06 465.69v2.3M284.24 466.03l1.63 1.63M284.24 467.65l1.63 -1.63M285.57 466.84h2.3M286.72 465.69v2.3M285.9 466.03l1.63 1.63M285.9 467.65l1.63 -1.63M287.23 466.84h2.3M288.38 465.69v2.3M287.57 466.03l1.63 1.63M287.57 467.65l1.63 -1.63M288.89 487.32h2.3M290.04 486.17v2.3M289.23 486.51l1.63 1.63M289.23 488.13l1.63 -1.63M290.55 466.84h2.3M291.7 465.69v2.3M290.89 466.03l1.63 1.63M290.89 467.65l1.63 -1.63M292.21 466.84h2.3M293.36 465.69v2.3M292.55 466.03l1.63 1.63M292.55 467.65l1.63 -1.63M293.87 466.84h2.3M295.02 465.69v2.3M294.21 466.03l1.63 1.63M294.21 467.65l1.63 -1.63M295.53 466.84h2.3M296.68 465.69v2.3M295.87 466.03l1.63 1.63M295.87 467.65l1.63 -1.63M297.2 466.84h2.3M298.35 465.69v2.3M297.53 466.03l1.63 1.63M297.53 467.65l1.63 -1.63M298.86 405.4h2.3M300.01 404.25v2.3M299.19 404.59l1.63 1.63M299.19 406.21l1.63 -1.63M300.52 466.84h2.3M301.67 465.69v2.3M300.85 466.03l1.63 1.63M300.85 467.65l1.63 -1.63M302.18 466.84h2.3M303.33 465.69v2.3M302.51 466.03l1.63 1.63M302.51 467.65l1.63 -1.63M303.84 446.36h2.3M304.99 445.21v2.3M304.18 445.55l1.63 1.63M304.18 447.17l1.63 -1.63M305.5 446.36h2.3M306.65 445.21v2.3M305.84 445.55l1.63 1.63M305.84 447.17l1.63 -1.63M307.16 446.36h2.3M308.31 445.21v2.3M307.5 445.55l1.63 1.63M307.5 447.17l1.63 -1.63M308.82 446.36h2.3M309.97 445.21v2.3M309.16 445.55l1.63 1.63M309.16 447.17l1.63 -1.63M310.48 446.36h2.3M311.63 445.21v2.3M310.82 445.55l1.63 1.63M310.82 447.17l1.63 -1.63M312.14 446.36h2.3M313.29 445.21v2.3M312.48 445.55l1.63 1.63M312.48 447.17l1.63 -1.63M313.81 446.36h2.3M314.95 445.21v2.3M314.14 445.55l1.63 1.63M314.14 447.17l1.63 -1.63M315.47 446.36h2.3M316.62 445.21v2.3M315.8 445.55l1.63 1.63M315.8 447.17l1.63 -1.63M317.13 446.36h2.3M318.28 445.21v2.3M317.46 445.55l1.63 1.63M317.46 447.17l1.63 -1.63M318.79 446.36h2.3M319.94 445.21v2.3M319.12 445.55l1.63 1.63M319.12 447.17l1.63 -1.63M320.45 446.36h2.3M321.6 445.21v2.3M320.79 445.55l1.63 1.63M320.79 447.17l1.63 -1.63M322.11 446.36h2.3M323.26 445.21v2.3M322.45 445.55l1.63 1.63M322.45 447.17l1.63 -1.63M323.77 446.36h2.3M324.92 445.21v2.3M324.11 445.55l1.63 1.63M324.11 447.17l1.63 -1.63M325.43 446.36h2.3M326.58 445.21v2.3M325.77 445.55l1.63 1.63M325.77 447.17l1.63 -1.63M327.09 446.36h2.3M328.24 445.21v2.3M327.43 445.55l1.63 1.63M327.43 447.17l1.63 -1.63M328.75 405.4h2.3M329.9 404.25v2.3M329.09 404.59l1.63 1.63M329.09 406.21l1.63 -1.63M330.42 425.88h2.3M331.56 424.73v2.3M330.75 425.07l1.63 1.63M330.75 426.69l1.63 -1.63M332.08 425.88h2.3M333.23 424.73v2.3M332.41 425.07l1.63 1.63M332.41 426.69l1.63 -1.63M333.74 425.88h2.3M334.89 424.73v2.3M334.07 425.07l1.63 1.63M334.07 426.69l1.63 -1.63M335.4 425.88h2.3M336.55 424.73v2.3M335.73 425.07l1.63 1.63M335.73 426.69l1.63 -1.63M337.06 425.88h2.3M338.21 424.73v2.3M337.4 425.07l1.63 1.63M337.4 426.69l1.63 -1.63M338.72 425.88h2.3M339.87 424.73v2.3M339.06 425.07l1.63 1.63M339.06 426.69l1.63 -1.63M340.38 425.88h2.3M341.53 424.73v2.3M340.72 425.07l1.63 1.63M340.72 426.69l1.63 -1.63M342.04 425.88h2.3M343.19 424.73v2.3M342.38 425.07l1.63 1.63M342.38 426.69l1.63 -1.63M343.7 425.88h2.3M344.85 424.73v2.3M344.04 425.07l1.63 1.63M344.04 426.69l1.63 -1.63M345.36 425.88h2.3M346.51 424.73v2.3M345.7 425.07l1.63 1.63M345.7 426.69l1.63 -1.63M347.03 425.88h2.3M348.18 424.73v2.3M347.36 425.07l1.63 1.63M347.36 426.69l1.63 -1.63M348.69 425.88h2.3M349.84 424.73v2.3M349.02 425.07l1.63 1.63M349.02 426.69l1.63 -1.63M350.35 425.88h2.3M351.5 424.73v2.3M350.68 425.07l1.63 1.63M350.68 426.69l1.63 -1.63M352.01 405.4h2.3M353.16 404.25v2.3M352.34 404.59l1.63 1.63M352.34 406.21l1.63 -1.63M353.67 425.88h2.3M354.82 424.73v2.3M354.01 425.07l1.63 1.63M354.01 426.69l1.63 -1.63M355.33 425.88h2.3M356.48 424.73v2.3M355.67 425.07l1.63 1.63M355.67 426.69l1.63 -1.63M356.99 405.4h2.3M358.14 404.25v2.3M357.33 404.59l1.63 1.63M357.33 406.21l1.63 -1.63M358.65 405.4h2.3M359.8 404.25v2.3M358.99 404.59l1.63 1.63M358.99 406.21l1.63 -1.63M360.31 405.4h2.3M361.46 404.25v2.3M360.65 404.59l1.63 1.63M360.65 406.21l1.63 -1.63M361.97 405.4h2.3M363.12 404.25v2.3M362.31 404.59l1.63 1.63M362.31 406.21l1.63 -1.63M363.63 405.4h2.3M364.78 404.25v2.3M363.97 404.59l1.63 1.63M363.97 406.21l1.63 -1.63M365.3 405.4h2.3M366.45 404.25v2.3M365.63 404.59l1.63 1.63M365.63 406.21l1.63 -1.63M366.96 405.4h2.3M368.11 404.25v2.3M367.29 404.59l1.63 1.63M367.29 406.21l1.63 -1.63M368.62 405.4h2.3M369.77 404.25v2.3M368.95 404.59l1.63 1.63M368.95 406.21l1.63 -1.63M370.28 405.4h2.3M371.43 404.25v2.3M370.62 404.59l1.63 1.63M370.62 406.21l1.63 -1.63M371.94 405.4h2.3M373.09 404.25v2.3M372.28 404.59l1.63 1.63M372.28 406.21l1.63 -1.63M373.6 405.4h2.3M374.75 404.25v2.3M373.94 404.59l1.63 1.63M373.94 406.21l1.63 -1.63M375.26 405.4h2.3M376.41 404.25v2.3M375.6 404.59l1.63 1.63M375.6 406.21l1.63 -1.63M376.92 405.4h2.3M378.07 404.25v2.3M377.26 404.59l1.63 1.63M377.26 406.21l1.63 -1.63M378.58 405.4h2.3M379.73 404.25v2.3M378.92 404.59l1.63 1.63M378.92 406.21l1.63 -1.63M380.25 405.4h2.3M381.39 404.25v2.3M380.58 404.59l1.63 1.63M380.58 406.21l1.63 -1.63M381.91 405.4h2.3M383.06 404.25v2.3M382.24 404.59l1.63 1.63M382.24 406.21l1.63 -1.63" stroke="#dc5a20" stroke-width="0.36" fill="none"/>
<g fill="#d9531a"><circle cx="225.26" cy="507.8" r="0.7"/><circle cx="226.92" cy="507.8" r="0.7"/><circle cx="228.58" cy="507.8" r="0.7"/><circle cx="230.24" cy="507.8" r="0.7"/><circle cx="231.91" cy="507.8" r="0.7"/><circle cx="233.57" cy="507.8" r="0.7"/><circle cx="235.23" cy="507.8" r="0.7"/><circle cx="236.89" cy="507.8" r="0.7"/><circle cx="238.55" cy="507.8" r="0.7"/><circle cx="240.21" cy="507.8" r="0.7"/><circle cx="241.87" cy="507.8" r="0.7"/><circle cx="243.53" cy="507.8" r="0.7"/><circle cx="245.19" cy="507.8" r="0.7"/><circle cx="246.85" cy="507.8" r="0.7"/><circle cx="248.51" cy="507.8" r="0.7"/><circle cx="250.18" cy="507.8" r="0.7"/><circle cx="251.84" cy="487.32" r="0.7"/><circle cx="253.5" cy="487.32" r="0.7"/><circle cx="255.16" cy="405.4" r="0.7"/><circle cx="256.82" cy="487.32" r="0.7"/><circle cx="258.48" cy="487.32" r="0.7"/><circle cx="260.14" cy="487.32" r="0.7"/><circle cx="261.8" cy="487.32" r="0.7"/><circle cx="263.46" cy="487.32" r="0.7"/><circle cx="265.12" cy="487.32" r="0.7"/><circle cx="266.79" cy="487.32" r="0.7"/><circle cx="268.45" cy="487.32" r="0.7"/><circle cx="270.11" cy="487.32" r="0.7"/><circle cx="271.77" cy="487.32" r="0.7"/><circle cx="273.43" cy="487.32" r="0.7"/><circle cx="275.09" cy="487.32" r="0.7"/><circle cx="276.75" cy="487.32" r="0.7"/><circle cx="278.41" cy="466.84" r="0.7"/><circle cx="280.07" cy="466.84" r="0.7"/><circle cx="281.74" cy="466.84" r="0.7"/><circle cx="283.4" cy="466.84" r="0.7"/><circle cx="285.06" cy="466.84" r="0.7"/><circle cx="286.72" cy="466.84" r="0.7"/><circle cx="288.38" cy="466.84" r="0.7"/><circle cx="290.04" cy="487.32" r="0.7"/><circle cx="291.7" cy="466.84" r="0.7"/><circle cx="293.36" cy="466.84" r="0.7"/><circle cx="295.02" cy="466.84" r="0.7"/><circle cx="296.68" cy="466.84" r="0.7"/><circle cx="298.35" cy="466.84" r="0.7"/><circle cx="300.01" cy="405.4" r="0.7"/><circle cx="301.67" cy="466.84" r="0.7"/><circle cx="303.33" cy="466.84" r="0.7"/><circle cx="304.99" cy="446.36" r="0.7"/><circle cx="306.65" cy="446.36" r="0.7"/><circle cx="308.31" cy="446.36" r="0.7"/><circle cx="309.97" cy="446.36" r="0.7"/><circle cx="311.63" cy="446.36" r="0.7"/><circle cx="313.29" cy="446.36" r="0.7"/><circle cx="314.95" cy="446.36" r="0.7"/><circle cx="316.62" cy="446.36" r="0.7"/><circle cx="318.28" cy="446.36" r="0.7"/><circle cx="319.94" cy="446.36" r="0.7"/><circle cx="321.6" cy="446.36" r="0.7"/><circle cx="323.26" cy="446.36" r="0.7"/><circle cx="324.92" cy="446.36" r="0.7"/><circle cx="326.58" cy="446.36" r="0.7"/><circle cx="328.24" cy="446.36" r="0.7"/><circle cx="329.9" cy="405.4" r="0.7"/><circle cx="331.56" cy="425.88" r="0.7"/><circle cx="333.23" cy="425.88" r="0.7"/><circle cx="334.89" cy="425.88" r="0.7"/><circle cx="336.55" cy="425.88" r="0.7"/><circle cx="338.21" cy="425.88" r="0.7"/><circle cx="339.87" cy="425.88" r="0.7"/><circle cx="341.53" cy="425.88" r="0.7"/><circle cx="343.19" cy="425.88" r="0.7"/><circle cx="344.85" cy="425.88" r="0.7"/><circle cx="346.51" cy="425.88" r="0.7"/><circle cx="348.18" cy="425.88" r="0.7"/><circle cx="349.84" cy="425.88" r="0.7"/><circle cx="351.5" cy="425.88" r="0.7"/><circle cx="353.16" cy="405.4" r="0.7"/><circle cx="354.82" cy="425.88" r="0.7"/><circle cx="356.48" cy="425.88" r="0.7"/><circle cx="358.14" cy="405.4" r="0.7"/><circle cx="359.8" cy="405.4" r="0.7"/><circle cx="361.46" cy="405.4" r="0.7"/><circle cx="363.12" cy="405.4" r="0.7"/><circle cx="364.78" cy="405.4" r="0.7"/><circle cx="366.45" cy="405.4" r="0.7"/><circle cx="368.11" cy="405.4" r="0.7"/><circle cx="369.77" cy="405.4" r="0.7"/><circle cx="371.43" cy="405.4" r="0.7"/><circle cx="373.09" cy="405.4" r="0.7"/><circle cx="374.75" cy="405.4" r="0.7"/><circle cx="376.41" cy="405.4" r="0.7"/><circle cx="378.07" cy="405.4" r="0.7"/><circle cx="379.73" cy="405.4" r="0.7"/><circle cx="381.39" cy="405.4" r="0.7"/><circle cx="383.06" cy="405.4" r="0.7"/></g>
<rect x="223.6" y="395.8" width="166.1" height="121.6" fill="none" stroke="#9a9a9a" stroke-width="0.9"/>
<text font-size="4.9" text-anchor="middle" fill="#404040" stroke="#404040" stroke-width="0.1" transform="translate(223.6 525) rotate(0.03) scale(1 0.97)">0</text>
<text font-size="4.9" text-anchor="middle" fill="#404040" stroke="#404040" stroke-width="0.1" transform="translate(240.21 525) rotate(0.03) scale(1 0.97)">10</text>
<text font-size="4.9" text-anchor="middle" fill="#404040" stroke="#404040" stroke-width="0.1" transform="translate(256.82 525) rotate(0.03) scale(1 0.97)">20</text>
<text font-size="4.9" text-anchor="middle" fill="#404040" stroke="#404040" stroke-width="0.1" transform="translate(273.43 525) rotate(0.03) scale(1 0.97)">30</text>
<text font-size="4.9" text-anchor="middle" fill="#404040" stroke="#404040" stroke-width="0.1" transform="translate(290.04 525) rotate(0.03) scale(1 0.97)">40</text>
<text font-size="4.9" text-anchor="middle" fill="#404040" stroke="#404040" stroke-width="0.1" transform="translate(306.65 525) rotate(0.03) scale(1 0.97)">50</text>
<text font-size="4.9" text-anchor="middle" fill="#404040" stroke="#404040" stroke-width="0.1" transform="translate(323.26 525) rotate(0.03) scale(1 0.97)">60</text>
<text font-size="4.9" text-anchor="middle" fill="#404040" stroke="#404040" stroke-width="0.1" transform="translate(339.87 525) rotate(0.03) scale(1 0.97)">70</text>
<text font-size="4.9" text-anchor="middle" fill="#404040" stroke="#404040" stroke-width="0.1" transform="translate(356.48 525) rotate(0.03) scale(1 0.97)">80</text>
<text font-size="4.9" text-anchor="middle" fill="#404040" stroke="#404040" stroke-width="0.1" transform="translate(373.09 525) rotate(0.03) scale(1 0.97)">90</text>
<text font-size="4.9" text-anchor="middle" fill="#404040" stroke="#404040" stroke-width="0.1" transform="translate(389.7 525) rotate(0.03) scale(1 0.97)">100</text>
<text font-size="4.9" text-anchor="end" fill="#404040" stroke="#404040" stroke-width="0.1" transform="translate(221.4 509.5) rotate(0.03) scale(1 0.97)">P-1</text>
<text font-size="4.9" text-anchor="end" fill="#404040" stroke="#404040" stroke-width="0.1" transform="translate(221.4 489.02) rotate(0.03) scale(1 0.97)">P-2</text>
<text font-size="4.9" text-anchor="end" fill="#404040" stroke="#404040" stroke-width="0.1" transform="translate(221.4 468.54) rotate(0.03) scale(1 0.97)">P-3</text>
<text font-size="4.9" text-anchor="end" fill="#404040" stroke="#404040" stroke-width="0.1" transform="translate(221.4 448.06) rotate(0.03) scale(1 0.97)">P-4</text>
<text font-size="4.9" text-anchor="end" fill="#404040" stroke="#404040" stroke-width="0.1" transform="translate(221.4 427.58) rotate(0.03) scale(1 0.97)">P-5</text>
<text font-size="4.9" text-anchor="end" fill="#404040" stroke="#404040" stroke-width="0.1" transform="translate(221.4 407.1) rotate(0.03) scale(1 0.97)">P-6</text>
<rect x="352.1" y="399.6" width="33.3" height="12" fill="#fff" stroke="#555" stroke-width="0.5"/>
<path d="M354 403.2H368.58" stroke="#3d8fcd" stroke-width="0.75"/>
<circle cx="361.29" cy="403.2" r="1.35" fill="#fff" stroke="#3388cc" stroke-width="0.7"/>
<path d="M354 408.48H368.58" stroke="#e2703c" stroke-width="0.75"/>
<path d="M360.14 408.48h2.3M361.29 407.33v2.3M360.48 407.67l1.63 1.63M360.48 409.29l1.63 -1.63" stroke="#dc5a20" stroke-width="0.45" fill="none"/>
<text font-size="4.6" text-anchor="start" fill="#222" stroke="#222" stroke-width="0.2" transform="translate(370.28 405.04) rotate(0.03) scale(1 1.2)">ture</text>
<text font-size="4.6" text-anchor="start" fill="#222" stroke="#222" stroke-width="0.2" transform="translate(370.28 410.32) rotate(0.03) scale(1 1.2)">predict</text>
<text font-size="9" text-anchor="middle" fill="#111" stroke="#111" stroke-width="0.1" font-weight="bold" font-family='"Liberation Serif", "Times New Roman", serif' transform="translate(204.5 544) rotate(0.03) scale(1 1)">(c)</text>
</svg>
</body>
</html>
